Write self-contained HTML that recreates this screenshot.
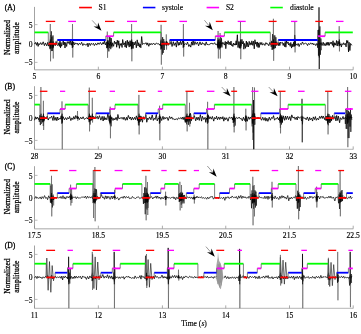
<!DOCTYPE html>
<html><head><meta charset="utf-8"><style>
html,body{margin:0;padding:0;background:#fff;}
svg{display:block;}
text{font-family:"Liberation Serif",serif;fill:#000;stroke:#000;stroke-width:0.15px;}
</style></head><body>
<svg width="361" height="334" viewBox="0 0 361 334">
<rect width="361" height="334" fill="#fff"/>

<line x1="79.1" y1="7.55" x2="91.9" y2="7.55" stroke="#ff0000" stroke-width="1.6"/>
<text x="98.6" y="10.0" font-size="7.6">S1</text>
<line x1="142.9" y1="7.55" x2="155.4" y2="7.55" stroke="#0000ff" stroke-width="1.6"/>
<text x="162.0" y="10.0" font-size="7.6">systole</text>
<line x1="206.6" y1="7.55" x2="219.1" y2="7.55" stroke="#ff00ff" stroke-width="1.6"/>
<text x="225.9" y="10.0" font-size="7.6">S2</text>
<line x1="270.3" y1="7.55" x2="282.8" y2="7.55" stroke="#00ff00" stroke-width="1.6"/>
<text x="290.1" y="10.0" font-size="7.6">diastole</text>
<line x1="34.5" y1="6.9" x2="34.5" y2="69.7" stroke="#999" stroke-width="0.9"/>
<line x1="34.5" y1="69.7" x2="353.3" y2="69.7" stroke="#c4c4c4" stroke-width="1.4"/>
<line x1="34.5" y1="24.62" x2="37.5" y2="24.62" stroke="#aaa" stroke-width="0.8"/>
<text x="32.6" y="27.73" font-size="7.6" text-anchor="end">5</text>
<line x1="34.5" y1="43.50" x2="37.5" y2="43.50" stroke="#aaa" stroke-width="0.8"/>
<text x="32.6" y="46.60" font-size="7.6" text-anchor="end">0</text>
<line x1="34.5" y1="62.38" x2="37.5" y2="62.38" stroke="#aaa" stroke-width="0.8"/>
<text x="32.6" y="65.47" font-size="7.6" text-anchor="end">−5</text>
<line x1="34.50" y1="69.7" x2="34.50" y2="66.7" stroke="#888" stroke-width="0.7"/>
<text x="34.50" y="79.10" font-size="7.6" text-anchor="middle">5</text>
<line x1="98.35" y1="69.7" x2="98.35" y2="66.7" stroke="#888" stroke-width="0.7"/>
<text x="98.35" y="79.10" font-size="7.6" text-anchor="middle">6</text>
<line x1="162.40" y1="69.7" x2="162.40" y2="66.7" stroke="#888" stroke-width="0.7"/>
<text x="162.40" y="79.10" font-size="7.6" text-anchor="middle">7</text>
<line x1="225.75" y1="69.7" x2="225.75" y2="66.7" stroke="#888" stroke-width="0.7"/>
<text x="225.75" y="79.10" font-size="7.6" text-anchor="middle">8</text>
<line x1="289.50" y1="69.7" x2="289.50" y2="66.7" stroke="#888" stroke-width="0.7"/>
<text x="289.50" y="79.10" font-size="7.6" text-anchor="middle">9</text>
<line x1="353.20" y1="69.7" x2="353.20" y2="66.7" stroke="#888" stroke-width="0.7"/>
<text x="353.20" y="79.10" font-size="7.6" text-anchor="middle">10</text>
<path d="M34.5,43.88 L35.56,42.44 L36.61,45.26 L37.38,42.34 L38.11,46.4 L38.92,43.48 L39.66,44.61 L40.67,42.64 L41.82,44.72 L43.21,41.83 L44.41,45.66 L45.39,42.93 L46.76,45.84 L47.79,42.33 L48.54,46.11 L49.91,42.23 L50.79,45.32 L51.88,43.39 L53.09,44.36 L53.94,43.09 L55.2,45.79 L56.08,41.45 L57.02,45.03 L57.62,45.44 L58.19,45.36 L58.89,42.73 L59.43,46.36 L59.97,40.72 L60.52,47.78 L61.02,42.48 L61.59,46.22 L62.19,44.65 L62.67,43.51 L63.26,40.56 L63.72,44.95 L64.36,42.13 L64.99,48.04 L65.73,42.45 L66.63,46.46 L67.33,41.6 L68.27,43.37 L69.09,41.29 L70,44.68 L70.66,39.73 L71.4,45.22 L71.89,42.67 L72.78,44.7 L73.78,42.11 L74.5,44.79 L75.55,42.87 L76.43,44.11 L77.25,43.16 L78.26,45.2 L79.26,43.23 L80.58,44.48 L81.63,42.3 L82.82,45.58 L83.72,43.67 L84.85,44.62 L85.87,44.95 L86.6,44.91 L87.31,43.29 L88.03,46.84 L89.04,43.08 L90.31,45.51 L91.13,43.33 L92.33,44.52 L93.4,43.29 L94.37,45.6 L95.58,43.36 L96.72,45.1 L97.97,42.84 L99.13,44.45 L100.33,42.44 L101.72,44.79 L103.06,42.29 L103.81,44.11 L104.53,40.51 L105.35,44.86 L106.42,42.4 L107.6,44.6 L108.67,43.32 L109.81,45.41 L110.78,41.97 L111.63,46.11 L112.47,42.81 L113.59,46.31 L114.44,41.12 L115.24,43.81 L116.15,42.04 L116.66,47.22 L117.27,40.23 L118.18,45.26 L118.75,40.75 L119.38,48.32 L120.08,43.59 L120.8,45.32 L121.33,43.42 L122.09,47.48 L122.66,39.5 L123.56,44.73 L124.51,42.85 L125.08,47.09 L125.74,41.21 L126.39,47.79 L127.3,40.19 L128,45.4 L128.49,41.84 L129.19,47.08 L130.06,40.64 L130.56,46.27 L131.18,41.3 L131.84,48.58 L132.38,41.9 L133.03,48.56 L133.89,42.18 L134.65,44.94 L135.5,41.54 L136.32,47.77 L137.21,39.85 L138.05,46.02 L138.73,42.71 L139.5,47.12 L140.12,43.96 L140.84,47.77 L141.67,36.55 L142.49,44.56 L143.45,43.62 L144.78,43.76 L146.18,42.73 L146.93,45.16 L147.75,42.86 L148.79,46.32 L149.86,43.29 L150.76,44.84 L151.67,43.49 L152.4,44.57 L153.62,43.08 L154.98,44.89 L156.36,43.03 L157.72,43.93 L158.84,43.78 L159.86,45.21 L160.87,42.95 L161.76,44.36 L163.15,42.79 L164.02,45.19 L164.97,42.73 L166.07,44.57 L166.94,41.69 L168.26,45.31 L169.39,43.44 L170.14,44.29 L171.11,41.33 L172.05,46.49 L173.31,41.68 L174.16,45.48 L175.32,42.71 L176.4,47.12 L177.17,39.53 L178.27,45.42 L179.02,42.25 L179.78,45.08 L180.58,41.27 L181.53,44.57 L182.89,40.21 L184.15,44.92 L185.48,43.64 L186.44,44.74 L187.53,42.1 L188.82,46.54 L189.71,44.68 L190.79,47.13 L191.54,41.89 L192.3,45.18 L193.1,39.83 L193.97,45.19 L194.95,41.58 L196.12,44.37 L197.46,42.14 L198.62,45.83 L199.99,41.88 L201.19,44.96 L202.41,42.56 L203.23,44.24 L203.97,43.43 L205.12,45.47 L206.23,41.9 L207.06,44.71 L207.92,44.22 L208.74,45.13 L209.77,43.9 L211.11,43.58 L211.97,43.22 L213.23,44.26 L214.62,42.66 L215.33,44.35 L216.45,44.1 L217.38,45.11 L218.77,42.85 L219.58,46.33 L220.86,43.56 L222.06,43.9 L223.17,42.57 L224.42,45.1 L225.27,41.41 L225.79,48.67 L226.48,42.03 L227.27,44.08 L228.14,40.74 L228.94,44.69 L229.79,42.17 L230.39,44.95 L231.03,41.06 L231.58,45.63 L232.39,44.63 L232.89,46.54 L233.43,43 L234.18,45.1 L234.83,43.69 L235.49,45.11 L236.14,40.77 L236.59,44.95 L237.37,34.79 L238,47.51 L238.84,41.49 L239.37,48.16 L240.07,42.04 L241.01,45.81 L241.94,39.34 L242.43,43.94 L243.34,41.4 L243.85,49.2 L244.58,43.41 L245.49,48.3 L246.35,41.03 L246.92,46.78 L247.41,42.54 L248.35,47 L249.17,41.33 L250.02,45.18 L250.67,42.76 L251.38,44.61 L251.85,40.86 L252.78,45.39 L253.57,41.23 L254.26,48.83 L254.93,39.73 L255.64,44.1 L256.12,42.11 L256.94,46.52 L257.42,41.95 L258.12,47.53 L258.69,42.9 L259.26,47.4 L260.14,42.38 L261,44.71 L261.79,42.48 L262.49,45.13 L263.76,43.55 L264.87,45.47 L265.92,42.6 L266.95,44.3 L267.78,43.63 L268.81,45.79 L269.96,42.25 L270.69,44.42 L272,42.25 L273.19,45.42 L274.1,42.76 L274.93,44.2 L276.09,41.68 L276.95,45.43 L278.1,42.4 L278.77,45.81 L279.36,42.58 L279.86,45.48 L280.58,42.05 L281.52,43.12 L282.44,42.37 L283.17,45.48 L283.88,43.1 L284.67,46.7 L285.2,41.48 L285.87,47.19 L286.57,40.96 L287.26,43.45 L288.15,41.91 L288.61,45.02 L289.46,43.56 L290.19,46.35 L290.8,42.48 L291.56,48.08 L292.1,43.98 L292.89,47.02 L293.52,42.38 L293.99,46.22 L294.67,34.95 L295.57,44.39 L296.06,43.88 L297.29,45.39 L298.16,43.42 L299.11,46.57 L300.27,43.5 L301.45,44.62 L302.43,41.94 L303.68,44.45 L304.49,43.65 L305.52,43.23 L306.82,43.91 L307.57,45.57 L308.46,43.44 L309.66,44.52 L310.61,42.84 L311.94,44.31 L312.87,43.06 L313.61,44.89 L314.73,43.76 L315.72,45.6 L316.93,43.36 L317.78,44.6 L319.08,42.85 L320.02,44.74 L321.12,42.59 L322.03,45.56 L323.19,42.19 L324.06,45.66 L324.8,43.43 L325.85,45.77 L326.38,42.57 L326.88,44.97 L327.68,42.31 L328.14,45.33 L328.62,42.46 L329.3,45.38 L330.2,42.24 L330.98,43.83 L331.61,42.26 L332.45,45.43 L333.04,40.77 L333.68,47.26 L334.28,42.65 L334.81,45.24 L335.26,43.44 L335.83,45.12 L336.56,40.49 L337.18,46.02 L337.97,41.24 L338.83,44.23 L339.47,41.99 L340.19,45.17 L340.89,43.85 L341.39,47.04 L342.09,43.65 L342.97,44.7 L343.62,42.75 L344.42,44.62 L345.29,43.35 L346.09,46.88 L346.73,40.38 L347.27,42.79 L347.79,40.65 L348.56,51.92 L349.06,42.2 L349.88,50.55 L350.57,43.46 L351.83,45.37" fill="none" stroke="#000" stroke-width="0.85" stroke-linejoin="round"/>
<path d="M49.6,44 50.05,48.43 50.53,34.96 50.92,48.17 51.3,31.29 51.71,51.06 52.09,36.97 52.45,50.94 52.83,36.1 53.25,46.92 53.72,42.59" fill="none" stroke="#000" stroke-width="0.65"/>
<path d="M106.5,44 106.87,48.1 107.29,42.15 107.69,49.54 108.29,40.51 108.86,51.4 109.31,36.24 109.76,48.06 110.25,37.48 110.75,49.16 111.34,38.17 111.93,47.5 112.49,43.75" fill="none" stroke="#000" stroke-width="0.65"/>
<path d="M160.1,44 160.49,45.83 160.86,40.43 161.4,48.75 161.88,41.04 162.28,54.59 162.63,37.18 163.19,52.93 163.72,39.1 164.27,50 164.81,41.17" fill="none" stroke="#000" stroke-width="0.65"/>
<path d="M217.1,44 217.55,46.65 217.96,38.26 218.32,48.1 218.73,39.19 219.17,49.51 219.72,38.68 220.23,48.1 220.65,35.6 221.08,46.36 221.51,38.32 221.92,47.49 222.4,42" fill="none" stroke="#000" stroke-width="0.65"/>
<path d="M270.8,44 271.19,46.79 271.64,40.87 272.12,49.92 272.55,34.09 273.14,49.62 273.71,35.35 274.25,48.73 274.84,35.38 275.43,48.14 275.89,37.24 276.28,45.8" fill="none" stroke="#000" stroke-width="0.65"/>
<path d="M317.2,44 317.63,47.77 318.07,29.98 318.46,55.65 318.9,29.74 319.3,57.46 319.88,26.37 320.38,54.76 320.88,38.46 321.43,50.26" fill="none" stroke="#000" stroke-width="0.65"/>
<path d="M50.1,44.0 L50.3,24 L50.55,61.3 L50.75,44.0" fill="none" stroke="#555" stroke-width="0.6"/>
<path d="M49.8,41.3 L50.1,49.2 L50.4,39.5 L50.7,48.2 L51,41.8" fill="none" stroke="#000" stroke-width="0.6"/>
<path d="M52.8,44.0 L53,35 L53.25,58.5 L53.45,44.0" fill="none" stroke="#555" stroke-width="0.6"/>
<path d="M52.5,42.4 L52.8,48.4 L53.1,41.3 L53.4,47.5 L53.7,42.6" fill="none" stroke="#000" stroke-width="0.6"/>
<path d="M72.3,44.0 L72.5,24 L72.75,57.5 L72.95,44.0" fill="none" stroke="#555" stroke-width="0.6"/>
<path d="M72,41.3 L72.3,48.0 L72.6,39.5 L72.9,47.2 L73.2,41.8" fill="none" stroke="#000" stroke-width="0.6"/>
<path d="M107.1,44.0 L107.3,31.6 L107.55,57.8 L107.75,44.0" fill="none" stroke="#555" stroke-width="0.6"/>
<path d="M106.8,41.8 L107.1,48.1 L107.4,40.3 L107.7,47.3 L108,42.1" fill="none" stroke="#000" stroke-width="0.6"/>
<path d="M131.4,44.0 L131.6,24 L131.85,61.3 L132.05,44.0" fill="none" stroke="#555" stroke-width="0.6"/>
<path d="M131.1,41.3 L131.4,49.2 L131.7,39.5 L132,48.2 L132.3,41.8" fill="none" stroke="#000" stroke-width="0.6"/>
<path d="M160.9,44.0 L161.1,24.8 L161.35,64.7 L161.55,44.0" fill="none" stroke="#555" stroke-width="0.6"/>
<path d="M160.6,41.3 L160.9,49.5 L161.2,39.5 L161.5,48.4 L161.8,41.8" fill="none" stroke="#000" stroke-width="0.6"/>
<path d="M166.1,44.0 L166.3,34.4 L166.55,49.6 L166.75,44.0" fill="none" stroke="#555" stroke-width="0.6"/>
<path d="M165.8,42.3 L166.1,45.7 L166.4,41.1 L166.7,45.3 L167,42.6" fill="none" stroke="#000" stroke-width="0.6"/>
<path d="M183.2,44.0 L183.4,24 L183.65,56.5 L183.85,44.0" fill="none" stroke="#555" stroke-width="0.6"/>
<path d="M182.9,41.3 L183.2,47.8 L183.5,39.5 L183.8,47.0 L184.1,41.8" fill="none" stroke="#000" stroke-width="0.6"/>
<path d="M217.9,44.0 L218.1,31 L218.35,58.5 L218.55,44.0" fill="none" stroke="#555" stroke-width="0.6"/>
<path d="M217.6,41.7 L217.9,48.4 L218.2,40.1 L218.5,47.5 L218.8,42.0" fill="none" stroke="#000" stroke-width="0.6"/>
<path d="M219.9,44.0 L220.1,33 L220.35,58.5 L220.55,44.0" fill="none" stroke="#555" stroke-width="0.6"/>
<path d="M219.6,42.0 L219.9,48.4 L220.2,40.7 L220.5,47.5 L220.8,42.4" fill="none" stroke="#000" stroke-width="0.6"/>
<path d="M240.3,44.0 L240.5,22 L240.75,59.2 L240.95,44.0" fill="none" stroke="#555" stroke-width="0.6"/>
<path d="M240,41.3 L240.3,48.6 L240.6,39.5 L240.9,47.6 L241.2,41.8" fill="none" stroke="#000" stroke-width="0.6"/>
<path d="M273.2,44.0 L273.4,18.8 L273.65,60.8 L273.85,44.0" fill="none" stroke="#555" stroke-width="0.6"/>
<path d="M272.9,41.3 L273.2,49.0 L273.5,39.5 L273.8,48.0 L274.1,41.8" fill="none" stroke="#000" stroke-width="0.6"/>
<path d="M294.6,44.0 L294.8,21.9 L295.05,52.4 L295.25,44.0" fill="none" stroke="#555" stroke-width="0.6"/>
<path d="M294.3,41.3 L294.6,46.5 L294.9,39.5 L295.2,46.0 L295.5,41.8" fill="none" stroke="#000" stroke-width="0.6"/>
<path d="M318.8,44.0 L319,7.3 L319.25,69 L319.45,44.0" fill="none" stroke="#111" stroke-width="0.75"/>
<path d="M339,44.0 L339.2,26.2 L339.45,51.4 L339.65,44.0" fill="none" stroke="#555" stroke-width="0.6"/>
<path d="M338.7,41.3 L339,46.2 L339.3,39.5 L339.6,45.8 L339.9,41.8" fill="none" stroke="#000" stroke-width="0.6"/>
<line x1="34.5" y1="32.40" x2="48.3" y2="32.40" stroke="#00ff00" stroke-width="1.8"/>
<line x1="48.3" y1="43.80" x2="57.3" y2="43.80" stroke="#ff0000" stroke-width="1.8"/>
<line x1="57.3" y1="40.00" x2="105.8" y2="40.00" stroke="#0000ff" stroke-width="1.8"/>
<line x1="105.8" y1="36.20" x2="113.6" y2="36.20" stroke="#ff00ff" stroke-width="1.8"/>
<line x1="113.6" y1="32.40" x2="161.1" y2="32.40" stroke="#00ff00" stroke-width="1.8"/>
<line x1="161.1" y1="43.80" x2="169.6" y2="43.80" stroke="#ff0000" stroke-width="1.8"/>
<line x1="169.6" y1="40.00" x2="215.3" y2="40.00" stroke="#0000ff" stroke-width="1.8"/>
<line x1="215.3" y1="36.20" x2="224.4" y2="36.20" stroke="#ff00ff" stroke-width="1.8"/>
<line x1="224.4" y1="32.40" x2="270.3" y2="32.40" stroke="#00ff00" stroke-width="1.8"/>
<line x1="270.3" y1="43.80" x2="278.2" y2="43.80" stroke="#ff0000" stroke-width="1.8"/>
<line x1="278.2" y1="40.00" x2="317.8" y2="40.00" stroke="#0000ff" stroke-width="1.8"/>
<line x1="317.8" y1="36.20" x2="325.1" y2="36.20" stroke="#ff00ff" stroke-width="1.8"/>
<line x1="325.1" y1="32.40" x2="352.8" y2="32.40" stroke="#00ff00" stroke-width="1.8"/>
<line x1="48.3" y1="32.40" x2="48.3" y2="43.80" stroke="#555" stroke-width="0.75"/>
<line x1="57.3" y1="43.80" x2="57.3" y2="40.00" stroke="#555" stroke-width="0.75"/>
<line x1="105.8" y1="40.00" x2="105.8" y2="36.20" stroke="#555" stroke-width="0.75"/>
<line x1="113.6" y1="36.20" x2="113.6" y2="32.40" stroke="#555" stroke-width="0.75"/>
<line x1="161.1" y1="32.40" x2="161.1" y2="43.80" stroke="#555" stroke-width="0.75"/>
<line x1="169.6" y1="43.80" x2="169.6" y2="40.00" stroke="#555" stroke-width="0.75"/>
<line x1="215.3" y1="40.00" x2="215.3" y2="36.20" stroke="#555" stroke-width="0.75"/>
<line x1="224.4" y1="36.20" x2="224.4" y2="32.40" stroke="#555" stroke-width="0.75"/>
<line x1="270.3" y1="32.40" x2="270.3" y2="43.80" stroke="#555" stroke-width="0.75"/>
<line x1="278.2" y1="43.80" x2="278.2" y2="40.00" stroke="#555" stroke-width="0.75"/>
<line x1="317.8" y1="40.00" x2="317.8" y2="36.20" stroke="#555" stroke-width="0.75"/>
<line x1="325.1" y1="36.20" x2="325.1" y2="32.40" stroke="#555" stroke-width="0.75"/>
<line x1="45.8" y1="21.40" x2="55.2" y2="21.40" stroke="#ff0000" stroke-width="1.3"/>
<line x1="68.2" y1="21.40" x2="76.0" y2="21.40" stroke="#ff00ff" stroke-width="1.3"/>
<line x1="105.0" y1="21.40" x2="114.4" y2="21.40" stroke="#ff0000" stroke-width="1.3"/>
<line x1="127.0" y1="21.40" x2="137.0" y2="21.40" stroke="#ff00ff" stroke-width="1.3"/>
<line x1="157.4" y1="21.40" x2="166.6" y2="21.40" stroke="#ff0000" stroke-width="1.3"/>
<line x1="179.4" y1="21.40" x2="187.0" y2="21.40" stroke="#ff00ff" stroke-width="1.3"/>
<line x1="215.8" y1="21.40" x2="223.2" y2="21.40" stroke="#ff0000" stroke-width="1.3"/>
<line x1="237.7" y1="21.40" x2="245.7" y2="21.40" stroke="#ff00ff" stroke-width="1.3"/>
<line x1="268.6" y1="21.40" x2="276.6" y2="21.40" stroke="#ff0000" stroke-width="1.3"/>
<line x1="291.0" y1="21.40" x2="297.3" y2="21.40" stroke="#ff00ff" stroke-width="1.3"/>
<line x1="315.3" y1="21.40" x2="323.0" y2="21.40" stroke="#ff0000" stroke-width="1.3"/>
<line x1="336.0" y1="21.40" x2="343.5" y2="21.40" stroke="#ff00ff" stroke-width="1.3"/>
<line x1="92.2" y1="20.4" x2="97.75" y2="26.54" stroke="#555" stroke-width="0.6"/>
<polygon points="101.5,30.7 93.58,26.40 97.75,26.54 98.03,22.38" fill="#000"/>
<line x1="204.4" y1="20.2" x2="209.22" y2="25.99" stroke="#555" stroke-width="0.6"/>
<polygon points="212.8,30.3 205.06,25.68 209.22,25.99 209.67,21.85" fill="#000"/>
<text x="4.8" y="10.0" font-size="7.6" style="stroke-width:0.3px">(A)</text>
<text transform="translate(9.5,37.50) rotate(-90)" font-size="7.6" text-anchor="middle" letter-spacing="-0.08" style="stroke-width:0.25px">Normalized</text>
<text transform="translate(18.7,38.00) rotate(-90)" font-size="7.6" text-anchor="middle" letter-spacing="0.2" style="stroke-width:0.25px">amplitude</text>
<line x1="34.5" y1="86.2" x2="34.5" y2="149.35" stroke="#999" stroke-width="0.9"/>
<line x1="34.5" y1="149.35" x2="353.3" y2="149.35" stroke="#c4c4c4" stroke-width="1.4"/>
<line x1="34.5" y1="95.40" x2="37.5" y2="95.40" stroke="#aaa" stroke-width="0.8"/>
<text x="32.6" y="98.50" font-size="7.6" text-anchor="end">5</text>
<line x1="34.5" y1="117.90" x2="37.5" y2="117.90" stroke="#aaa" stroke-width="0.8"/>
<text x="32.6" y="121.00" font-size="7.6" text-anchor="end">0</text>
<line x1="34.5" y1="140.40" x2="37.5" y2="140.40" stroke="#aaa" stroke-width="0.8"/>
<text x="32.6" y="143.50" font-size="7.6" text-anchor="end">−5</text>
<line x1="34.50" y1="149.35" x2="34.50" y2="146.35" stroke="#888" stroke-width="0.7"/>
<text x="34.50" y="158.75" font-size="7.6" text-anchor="middle">28</text>
<line x1="98.35" y1="149.35" x2="98.35" y2="146.35" stroke="#888" stroke-width="0.7"/>
<text x="98.35" y="158.75" font-size="7.6" text-anchor="middle">29</text>
<line x1="162.40" y1="149.35" x2="162.40" y2="146.35" stroke="#888" stroke-width="0.7"/>
<text x="162.40" y="158.75" font-size="7.6" text-anchor="middle">30</text>
<line x1="225.75" y1="149.35" x2="225.75" y2="146.35" stroke="#888" stroke-width="0.7"/>
<text x="225.75" y="158.75" font-size="7.6" text-anchor="middle">31</text>
<line x1="289.50" y1="149.35" x2="289.50" y2="146.35" stroke="#888" stroke-width="0.7"/>
<text x="289.50" y="158.75" font-size="7.6" text-anchor="middle">32</text>
<line x1="353.20" y1="149.35" x2="353.20" y2="146.35" stroke="#888" stroke-width="0.7"/>
<text x="353.20" y="158.75" font-size="7.6" text-anchor="middle">33</text>
<path d="M34.5,120.25 L35.47,116.8 L36.19,119.14 L37.31,117.16 L38.7,119.64 L39.92,115.23 L41.31,120.08 L42.6,117.8 L43.66,121.47 L44.86,117.63 L46.16,118.3 L47.31,116.09 L48.18,120.05 L49.42,117.65 L50.38,118.11 L51.68,116.17 L52.98,120.5 L53.73,115.74 L54.94,120.34 L55.94,117.22 L56.83,120.73 L57.66,117.03 L58.44,119.98 L59.39,118.49 L60.34,119.07 L61.15,115.8 L62.17,119.92 L63.11,116.75 L64.42,119.84 L65.59,117.62 L66.71,119.72 L67.61,117.57 L68.78,118.85 L69.57,116.36 L70.85,120.59 L71.93,117.85 L72.89,119.6 L73.83,116.49 L74.86,119.14 L75.78,115.47 L77.18,118.25 L78.33,116.9 L79.31,119.65 L80.71,117.24 L81.92,118.98 L83.08,116.78 L84.29,119.38 L85.32,118.69 L86.04,118.05 L87.11,117.75 L87.9,119.02 L88.66,116.7 L89.65,119.69 L90.66,115.77 L91.96,119.14 L93.03,116.24 L94.02,117.84 L95.29,116.54 L96.01,118.53 L97.39,116.35 L98.14,119.13 L99.48,115.68 L100.85,120.12 L102.18,116.34 L103.14,121.03 L104.09,116.42 L104.83,120.02 L105.81,117.8 L106.85,119.75 L107.89,113.7 L109.26,120.79 L110.22,116.7 L111.27,118.92 L112.01,117.65 L113,120.45 L113.9,118.2 L114.83,119.99 L116.09,117.3 L117.17,120.44 L117.89,114.46 L118.88,118.9 L120.22,117.81 L121.19,118.68 L121.97,117.27 L123.25,119.44 L124.03,117.06 L125.38,120.32 L126.45,117.33 L127.18,120.15 L128.35,115.4 L129.59,118.81 L130.41,117.03 L131.35,120.07 L132.33,117.19 L133.36,119.7 L134.55,117.36 L135.43,119.67 L136.39,115.89 L137.78,120.4 L138.82,117.44 L140.11,118.38 L141.21,116.75 L142.44,122.23 L143.3,116.68 L144.53,119.35 L145.88,114.74 L146.78,122.24 L147.67,118.12 L148.57,119.46 L149.61,116.88 L150.92,119.78 L152.22,114.96 L153.39,120.45 L154.27,118.25 L155.13,119.47 L156.34,114.44 L157.2,120.85 L158.56,117.91 L159.66,119.35 L160.57,116.82 L161.67,120.51 L162.97,116.31 L163.8,119.41 L164.85,117.31 L165.61,118.78 L166.99,117.24 L168.18,120.48 L169.54,116.42 L170.66,118.61 L171.79,116.93 L172.51,119.15 L173.88,118.87 L174.94,119.75 L176.21,118.77 L177.49,119.69 L178.43,117.84 L179.5,118.67 L180.52,117.7 L181.4,119.11 L182.33,117.16 L183.21,119.62 L184.07,116.85 L185.32,122.45 L186.2,115.89 L187.15,120.99 L188.12,117.84 L189.37,118.19 L190.49,113.37 L191.45,118.87 L192.25,118.57 L193.19,119.03 L194.39,115.68 L195.71,120.81 L196.73,117.29 L197.48,119.63 L198.21,117.13 L199.29,120.42 L200.36,114.64 L201.59,121.12 L202.4,116.26 L203.78,119.5 L205.08,117.33 L205.79,122.35 L206.53,117.91 L207.24,119.82 L208.29,115.21 L209.02,119.1 L209.98,116.67 L211.3,119.16 L212.38,116.41 L213.73,121.12 L214.55,117.48 L215.75,118.93 L216.56,116.23 L217.51,119.76 L218.85,116.95 L219.74,119.54 L220.76,116.97 L222.14,119.06 L222.9,116.63 L223.78,121.17 L224.78,117.57 L225.68,119.71 L226.62,117.73 L228.01,121.18 L229.26,117.06 L230.54,118.08 L231.88,117.21 L233.01,120.02 L234.16,117.55 L235.47,118.85 L236.65,117.42 L237.86,118.61 L239.1,117.09 L240.25,118.83 L241.19,118.33 L242.35,120.75 L243.41,117.24 L244.59,120.49 L245.94,115.97 L247.32,121.27 L248.21,116.8 L249.29,119.37 L250.16,117.09 L250.91,118.47 L251.98,115.88 L252.84,118.88 L253.63,116.71 L254.78,119.17 L255.65,117.67 L256.89,118.68 L257.98,117.18 L259.21,118.69 L260.23,117.64 L261.55,120.26 L262.74,117.27 L263.96,120.3 L265.14,117.53 L265.88,121.12 L266.85,118.23 L267.89,121.36 L269.28,117.17 L270.34,120.24 L271.66,117.4 L272.61,118.46 L273.53,115.64 L274.55,120.2 L275.57,118.64 L276.55,118.89 L277.46,117.18 L278.46,119.84 L279.7,117.19 L280.41,119.2 L281.3,116.93 L282.13,122.78 L283.41,115.84 L284.64,120.3 L285.52,115.97 L286.31,119.57 L287.52,116.16 L288.57,119.63 L289.89,116.47 L290.7,120.62 L291.77,114.87 L293,118.09 L294.18,116.97 L295.13,119.46 L296.29,117.11 L297.17,120.01 L297.93,116.5 L299.12,118.18 L300.42,117.19 L301.73,118.06 L302.65,117.39 L304.04,118.24 L305.18,118.09 L306.18,119.8 L307.35,116.95 L308.67,120.74 L309.62,117.4 L310.37,119.76 L311.48,118.19 L312.6,121.06 L313.31,116.9 L314.5,119.54 L315.4,116.55 L316.31,120.28 L317.42,118.25 L318.48,119.86 L319.71,116.31 L320.69,118.45 L321.72,115.92 L322.58,118.42 L323.3,116.17 L324.61,119.6 L325.79,116.03 L327.11,120.36 L328.4,117.71 L329.46,120.69 L330.52,117.75 L331.49,120.49 L332.58,115.36 L333.69,119.28 L335.02,116.32 L335.96,120.95 L336.67,115.44 L337.6,120.42 L338.37,116.09 L339.61,122.74 L340.4,117.68 L341.77,119.57 L343.05,116.46 L343.78,119.15 L345.06,117.31 L346.44,118.61 L347.78,117.07 L348.68,120.11 L350.07,116.32 L351.12,118.27 L352.08,117.09" fill="none" stroke="#000" stroke-width="0.85" stroke-linejoin="round"/>
<path d="M38.9,118.2 39.29,121.84 39.87,117.31 40.34,125.09 40.88,116.15 41.29,123.76 41.82,117.07 42.39,122.36 42.79,116.34 43.35,126.01 43.88,116.51 44.41,119.91" fill="none" stroke="#000" stroke-width="0.65"/>
<path d="M88,118.2 88.39,119.21 88.75,116.27 89.19,120.25 89.55,115.55 90.05,124.57 90.41,116.99 90.84,121 91.21,116.98 91.72,120.11 92.12,117.23" fill="none" stroke="#000" stroke-width="0.65"/>
<path d="M109,118.2 109.49,122.4 109.94,116.39 110.3,125.26 110.7,116.51 111.05,126.33 111.55,117.05" fill="none" stroke="#000" stroke-width="0.65"/>
<path d="M137,118.2 137.38,120.32 137.91,116.96 138.44,125.32 138.8,116.7 139.22,125.39 139.77,115.69 140.35,121.66 140.8,115.91 141.34,120.14 141.93,117.81" fill="none" stroke="#000" stroke-width="0.65"/>
<path d="M185,118.2 185.5,121.28 186.08,116.78 186.65,124.35 187.21,116.02 187.8,121.23 188.25,115.98 188.63,124.8 189,115.87 189.42,122.09 189.92,116.98 190.38,123.69 190.98,117.25 191.42,120.92 191.82,117.56" fill="none" stroke="#000" stroke-width="0.65"/>
<path d="M232,118.2 232.43,119.89 232.79,117.72 233.22,122.91 233.82,116.57 234.18,126.8 234.59,116.89 235.12,125.62 235.7,117.66" fill="none" stroke="#000" stroke-width="0.65"/>
<path d="M251.8,118.2 252.23,126.43 252.69,110.29 253.08,132.62 253.67,112.85 254.18,124.69 254.54,113.04 254.93,124.41" fill="none" stroke="#000" stroke-width="0.65"/>
<path d="M279,118.2 279.59,120.69 279.97,117.11 280.43,127.93 280.95,115.33 281.52,124.49 281.89,115.52 282.25,122.02 282.61,117.35 282.97,118.96" fill="none" stroke="#000" stroke-width="0.65"/>
<path d="M301,118.2 301.56,121.02 301.94,115.85 302.47,124.31 302.96,116.48" fill="none" stroke="#000" stroke-width="0.65"/>
<path d="M325,118.2 325.59,120.4 326.14,116.17 326.6,120.55 327.07,116.42 327.57,124.3 328.05,116.78 328.43,125.3 328.95,114.08 329.5,122.83 329.97,115.81 330.52,122.43 331.1,116.67 331.55,120.58 331.99,118.01" fill="none" stroke="#000" stroke-width="0.65"/>
<path d="M345,118.2 345.37,123.93 345.76,114.39 346.21,128.8 346.75,109.16 347.18,129.06 347.75,110.3 348.1,138.07 348.57,111.06 348.96,138.07 349.49,112.3 350.01,126.63 350.48,108.2 350.84,131.9 351.27,114.51 351.82,120.03" fill="none" stroke="#000" stroke-width="0.65"/>
<path d="M40.7,118.2 L40.9,87 L41.15,123.5 L41.35,118.2" fill="none" stroke="#555" stroke-width="0.6"/>
<path d="M40.4,115.5 L40.7,119.8 L41,113.7 L41.3,119.5 L41.6,116.0" fill="none" stroke="#000" stroke-width="0.6"/>
<path d="M43.2,118.2 L43.4,100.8 L43.65,130 L43.85,118.2" fill="none" stroke="#555" stroke-width="0.6"/>
<path d="M42.9,115.5 L43.2,121.7 L43.5,113.7 L43.8,121.0 L44.1,116.0" fill="none" stroke="#000" stroke-width="0.6"/>
<path d="M61.8,118.2 L62,101.4 L62.25,149.2 L62.45,118.2" fill="none" stroke="#555" stroke-width="0.6"/>
<path d="M61.5,115.5 L61.8,123.7 L62.1,113.7 L62.4,122.6 L62.7,116.0" fill="none" stroke="#000" stroke-width="0.6"/>
<path d="M77.3,118.2 L77.5,111 L77.75,120.8 L77.95,118.2" fill="none" stroke="#555" stroke-width="0.6"/>
<path d="M77,116.9 L77.3,119.0 L77.6,116.0 L77.9,118.8 L78.2,117.1" fill="none" stroke="#000" stroke-width="0.6"/>
<path d="M89.1,118.2 L89.3,87.6 L89.55,131.4 L89.75,118.2" fill="none" stroke="#555" stroke-width="0.6"/>
<path d="M88.8,115.5 L89.1,122.2 L89.4,113.7 L89.7,121.4 L90,116.0" fill="none" stroke="#000" stroke-width="0.6"/>
<path d="M92.1,118.2 L92.3,97.8 L92.55,122.5 L92.75,118.2" fill="none" stroke="#555" stroke-width="0.6"/>
<path d="M91.8,115.5 L92.1,119.5 L92.4,113.7 L92.7,119.2 L93,116.0" fill="none" stroke="#000" stroke-width="0.6"/>
<path d="M110,118.2 L110.2,106.7 L110.45,138.3 L110.65,118.2" fill="none" stroke="#555" stroke-width="0.6"/>
<path d="M109.7,116.1 L110,123.7 L110.3,114.8 L110.6,122.6 L110.9,116.5" fill="none" stroke="#000" stroke-width="0.6"/>
<path d="M138.7,118.2 L138.9,94.9 L139.15,134.4 L139.35,118.2" fill="none" stroke="#555" stroke-width="0.6"/>
<path d="M138.4,115.5 L138.7,123.1 L139,113.7 L139.3,122.1 L139.6,116.0" fill="none" stroke="#000" stroke-width="0.6"/>
<path d="M159.4,118.2 L159.6,105.7 L159.85,140.3 L160.05,118.2" fill="none" stroke="#555" stroke-width="0.6"/>
<path d="M159.1,116.0 L159.4,123.7 L159.7,114.5 L160,122.6 L160.3,116.3" fill="none" stroke="#000" stroke-width="0.6"/>
<path d="M186.7,118.2 L186.9,91.9 L187.15,131.4 L187.35,118.2" fill="none" stroke="#555" stroke-width="0.6"/>
<path d="M186.4,115.5 L186.7,122.2 L187,113.7 L187.3,121.4 L187.6,116.0" fill="none" stroke="#000" stroke-width="0.6"/>
<path d="M189.3,118.2 L189.5,102.8 L189.75,126.5 L189.95,118.2" fill="none" stroke="#555" stroke-width="0.6"/>
<path d="M189,115.5 L189.3,120.7 L189.6,113.7 L189.9,120.2 L190.2,116.0" fill="none" stroke="#000" stroke-width="0.6"/>
<path d="M207.4,118.2 L207.6,101.8 L207.85,149.2 L208.05,118.2" fill="none" stroke="#555" stroke-width="0.6"/>
<path d="M207.1,115.5 L207.4,123.7 L207.7,113.7 L208,122.6 L208.3,116.0" fill="none" stroke="#000" stroke-width="0.6"/>
<path d="M233.7,118.2 L233.9,87 L234.15,132.4 L234.35,118.2" fill="none" stroke="#555" stroke-width="0.6"/>
<path d="M233.4,115.5 L233.7,122.5 L234,113.7 L234.3,121.6 L234.6,116.0" fill="none" stroke="#000" stroke-width="0.6"/>
<path d="M245.6,118.2 L245.8,108.7 L246.05,130.4 L246.25,118.2" fill="none" stroke="#555" stroke-width="0.6"/>
<path d="M245.3,116.5 L245.6,121.9 L245.9,115.4 L246.2,121.1 L246.5,116.8" fill="none" stroke="#000" stroke-width="0.6"/>
<path d="M252.4,118.2 L252.6,87 L252.85,140 L253.05,118.2" fill="none" stroke="#555" stroke-width="0.6"/>
<path d="M252.1,115.5 L252.4,123.7 L252.7,113.7 L253,122.6 L253.3,116.0" fill="none" stroke="#000" stroke-width="0.6"/>
<path d="M254.3,118.2 L254.5,87.5 L254.75,125 L254.95,118.2" fill="none" stroke="#555" stroke-width="0.6"/>
<path d="M254,115.5 L254.3,120.2 L254.6,113.7 L254.9,119.8 L255.2,116.0" fill="none" stroke="#000" stroke-width="0.6"/>
<path d="M253.3,118.2 L253.5,100 L253.75,149.2 L253.95,118.2" fill="none" stroke="#111" stroke-width="0.9"/>
<path d="M280.1,118.2 L280.3,91.9 L280.55,133.4 L280.75,118.2" fill="none" stroke="#555" stroke-width="0.6"/>
<path d="M279.8,115.5 L280.1,122.8 L280.4,113.7 L280.7,121.8 L281,116.0" fill="none" stroke="#000" stroke-width="0.6"/>
<path d="M301.8,118.2 L302,98.8 L302.25,142.3 L302.45,118.2" fill="none" stroke="#111" stroke-width="0.65"/>
<path d="M327.6,118.2 L327.8,91.9 L328.05,134.4 L328.25,118.2" fill="none" stroke="#555" stroke-width="0.6"/>
<path d="M327.3,115.5 L327.6,123.1 L327.9,113.7 L328.2,122.1 L328.5,116.0" fill="none" stroke="#000" stroke-width="0.6"/>
<path d="M347.4,118.2 L347.6,87 L347.85,147.2 L348.05,118.2" fill="none" stroke="#555" stroke-width="0.6"/>
<path d="M347.1,115.5 L347.4,123.7 L347.7,113.7 L348,122.6 L348.3,116.0" fill="none" stroke="#000" stroke-width="0.6"/>
<line x1="34.5" y1="104.60" x2="39.9" y2="104.60" stroke="#00ff00" stroke-width="1.8"/>
<line x1="39.9" y1="118.10" x2="47.4" y2="118.10" stroke="#ff0000" stroke-width="1.8"/>
<line x1="47.4" y1="113.30" x2="60.0" y2="113.30" stroke="#0000ff" stroke-width="1.8"/>
<line x1="60.0" y1="109.00" x2="65.2" y2="109.00" stroke="#ff00ff" stroke-width="1.8"/>
<line x1="65.2" y1="104.60" x2="88.2" y2="104.60" stroke="#00ff00" stroke-width="1.8"/>
<line x1="88.2" y1="118.10" x2="95.9" y2="118.10" stroke="#ff0000" stroke-width="1.8"/>
<line x1="95.9" y1="113.30" x2="109.7" y2="113.30" stroke="#0000ff" stroke-width="1.8"/>
<line x1="109.7" y1="109.00" x2="115.0" y2="109.00" stroke="#ff00ff" stroke-width="1.8"/>
<line x1="115.0" y1="104.60" x2="138.0" y2="104.60" stroke="#00ff00" stroke-width="1.8"/>
<line x1="138.0" y1="118.10" x2="145.5" y2="118.10" stroke="#ff0000" stroke-width="1.8"/>
<line x1="145.5" y1="113.30" x2="158.2" y2="113.30" stroke="#0000ff" stroke-width="1.8"/>
<line x1="158.2" y1="109.00" x2="162.7" y2="109.00" stroke="#ff00ff" stroke-width="1.8"/>
<line x1="162.7" y1="104.60" x2="185.3" y2="104.60" stroke="#00ff00" stroke-width="1.8"/>
<line x1="185.3" y1="118.10" x2="193.8" y2="118.10" stroke="#ff0000" stroke-width="1.8"/>
<line x1="193.8" y1="113.30" x2="206.5" y2="113.30" stroke="#0000ff" stroke-width="1.8"/>
<line x1="206.5" y1="109.00" x2="214.4" y2="109.00" stroke="#ff00ff" stroke-width="1.8"/>
<line x1="214.4" y1="104.60" x2="251.6" y2="104.60" stroke="#00ff00" stroke-width="1.8"/>
<line x1="251.6" y1="118.10" x2="260.8" y2="118.10" stroke="#ff0000" stroke-width="1.8"/>
<line x1="260.8" y1="113.30" x2="279.6" y2="113.30" stroke="#0000ff" stroke-width="1.8"/>
<line x1="279.6" y1="109.00" x2="288.1" y2="109.00" stroke="#ff00ff" stroke-width="1.8"/>
<line x1="288.1" y1="104.60" x2="325.3" y2="104.60" stroke="#00ff00" stroke-width="1.8"/>
<line x1="325.3" y1="118.10" x2="334.2" y2="118.10" stroke="#ff0000" stroke-width="1.8"/>
<line x1="334.2" y1="113.30" x2="345.5" y2="113.30" stroke="#0000ff" stroke-width="1.8"/>
<line x1="345.5" y1="109.00" x2="352.8" y2="109.00" stroke="#ff00ff" stroke-width="1.8"/>
<line x1="39.9" y1="104.60" x2="39.9" y2="118.10" stroke="#555" stroke-width="0.75"/>
<line x1="47.4" y1="118.10" x2="47.4" y2="113.30" stroke="#555" stroke-width="0.75"/>
<line x1="60.0" y1="113.30" x2="60.0" y2="109.00" stroke="#555" stroke-width="0.75"/>
<line x1="65.2" y1="109.00" x2="65.2" y2="104.60" stroke="#555" stroke-width="0.75"/>
<line x1="88.2" y1="104.60" x2="88.2" y2="118.10" stroke="#555" stroke-width="0.75"/>
<line x1="95.9" y1="118.10" x2="95.9" y2="113.30" stroke="#555" stroke-width="0.75"/>
<line x1="109.7" y1="113.30" x2="109.7" y2="109.00" stroke="#555" stroke-width="0.75"/>
<line x1="115.0" y1="109.00" x2="115.0" y2="104.60" stroke="#555" stroke-width="0.75"/>
<line x1="138.0" y1="104.60" x2="138.0" y2="118.10" stroke="#555" stroke-width="0.75"/>
<line x1="145.5" y1="118.10" x2="145.5" y2="113.30" stroke="#555" stroke-width="0.75"/>
<line x1="158.2" y1="113.30" x2="158.2" y2="109.00" stroke="#555" stroke-width="0.75"/>
<line x1="162.7" y1="109.00" x2="162.7" y2="104.60" stroke="#555" stroke-width="0.75"/>
<line x1="185.3" y1="104.60" x2="185.3" y2="118.10" stroke="#555" stroke-width="0.75"/>
<line x1="193.8" y1="118.10" x2="193.8" y2="113.30" stroke="#555" stroke-width="0.75"/>
<line x1="206.5" y1="113.30" x2="206.5" y2="109.00" stroke="#555" stroke-width="0.75"/>
<line x1="214.4" y1="109.00" x2="214.4" y2="104.60" stroke="#555" stroke-width="0.75"/>
<line x1="251.6" y1="104.60" x2="251.6" y2="118.10" stroke="#555" stroke-width="0.75"/>
<line x1="260.8" y1="118.10" x2="260.8" y2="113.30" stroke="#555" stroke-width="0.75"/>
<line x1="279.6" y1="113.30" x2="279.6" y2="109.00" stroke="#555" stroke-width="0.75"/>
<line x1="288.1" y1="109.00" x2="288.1" y2="104.60" stroke="#555" stroke-width="0.75"/>
<line x1="325.3" y1="104.60" x2="325.3" y2="118.10" stroke="#555" stroke-width="0.75"/>
<line x1="334.2" y1="118.10" x2="334.2" y2="113.30" stroke="#555" stroke-width="0.75"/>
<line x1="345.5" y1="113.30" x2="345.5" y2="109.00" stroke="#555" stroke-width="0.75"/>
<line x1="39.9" y1="91.30" x2="47.4" y2="91.30" stroke="#ff0000" stroke-width="1.3"/>
<line x1="60.0" y1="91.30" x2="65.2" y2="91.30" stroke="#ff00ff" stroke-width="1.3"/>
<line x1="88.0" y1="91.30" x2="95.9" y2="91.30" stroke="#ff0000" stroke-width="1.3"/>
<line x1="109.7" y1="91.30" x2="115.0" y2="91.30" stroke="#ff00ff" stroke-width="1.3"/>
<line x1="138.0" y1="91.30" x2="145.5" y2="91.30" stroke="#ff0000" stroke-width="1.3"/>
<line x1="157.8" y1="91.30" x2="162.1" y2="91.30" stroke="#ff00ff" stroke-width="1.3"/>
<line x1="185.5" y1="91.30" x2="193.8" y2="91.30" stroke="#ff0000" stroke-width="1.3"/>
<line x1="206.9" y1="91.30" x2="214.4" y2="91.30" stroke="#ff00ff" stroke-width="1.3"/>
<line x1="231.2" y1="91.30" x2="237.1" y2="91.30" stroke="#ff0000" stroke-width="1.3"/>
<line x1="251.3" y1="91.30" x2="258.4" y2="91.30" stroke="#ff00ff" stroke-width="1.3"/>
<line x1="278.2" y1="91.30" x2="285.5" y2="91.30" stroke="#ff0000" stroke-width="1.3"/>
<line x1="298.0" y1="91.30" x2="304.6" y2="91.30" stroke="#ff00ff" stroke-width="1.3"/>
<line x1="325.1" y1="91.30" x2="332.2" y2="91.30" stroke="#ff0000" stroke-width="1.3"/>
<line x1="344.9" y1="91.30" x2="351.4" y2="91.30" stroke="#ff00ff" stroke-width="1.3"/>
<line x1="221.7" y1="87" x2="226.73" y2="92.25" stroke="#555" stroke-width="0.6"/>
<polygon points="230.6,96.3 222.56,92.23 226.73,92.25 226.89,88.08" fill="#000"/>
<line x1="268.7" y1="87" x2="273.73" y2="92.25" stroke="#555" stroke-width="0.6"/>
<polygon points="277.6,96.3 269.56,92.23 273.73,92.25 273.89,88.08" fill="#000"/>
<text x="4.8" y="89.0" font-size="7.6" style="stroke-width:0.3px">(B)</text>
<text transform="translate(9.5,116.98) rotate(-90)" font-size="7.6" text-anchor="middle" letter-spacing="-0.08" style="stroke-width:0.25px">Normalized</text>
<text transform="translate(18.7,117.48) rotate(-90)" font-size="7.6" text-anchor="middle" letter-spacing="0.2" style="stroke-width:0.25px">amplitude</text>
<line x1="34.5" y1="166.2" x2="34.5" y2="228.7" stroke="#999" stroke-width="0.9"/>
<line x1="34.5" y1="228.7" x2="353.3" y2="228.7" stroke="#c4c4c4" stroke-width="1.4"/>
<line x1="34.5" y1="175.40" x2="37.5" y2="175.40" stroke="#aaa" stroke-width="0.8"/>
<text x="32.6" y="178.50" font-size="7.6" text-anchor="end">5</text>
<line x1="34.5" y1="197.80" x2="37.5" y2="197.80" stroke="#aaa" stroke-width="0.8"/>
<text x="32.6" y="200.90" font-size="7.6" text-anchor="end">0</text>
<line x1="34.5" y1="220.20" x2="37.5" y2="220.20" stroke="#aaa" stroke-width="0.8"/>
<text x="32.6" y="223.30" font-size="7.6" text-anchor="end">−5</text>
<line x1="34.50" y1="228.7" x2="34.50" y2="225.7" stroke="#888" stroke-width="0.7"/>
<text x="34.50" y="237.70" font-size="7.6" text-anchor="middle">17.5</text>
<line x1="98.35" y1="228.7" x2="98.35" y2="225.7" stroke="#888" stroke-width="0.7"/>
<text x="98.35" y="237.70" font-size="7.6" text-anchor="middle">18.5</text>
<line x1="162.40" y1="228.7" x2="162.40" y2="225.7" stroke="#888" stroke-width="0.7"/>
<text x="162.40" y="237.70" font-size="7.6" text-anchor="middle">19.5</text>
<line x1="225.75" y1="228.7" x2="225.75" y2="225.7" stroke="#888" stroke-width="0.7"/>
<text x="225.75" y="237.70" font-size="7.6" text-anchor="middle">20.5</text>
<line x1="289.50" y1="228.7" x2="289.50" y2="225.7" stroke="#888" stroke-width="0.7"/>
<text x="289.50" y="237.70" font-size="7.6" text-anchor="middle">21.5</text>
<line x1="353.20" y1="228.7" x2="353.20" y2="225.7" stroke="#888" stroke-width="0.7"/>
<text x="353.20" y="237.70" font-size="7.6" text-anchor="middle">22.5</text>
<path d="M34.5,198.64 L35.83,196.47 L36.86,198.34 L37.71,197.45 L38.84,198.66 L40.17,196.91 L41.25,199.07 L42.13,196.6 L43.36,198.49 L44.55,195.6 L45.82,198.48 L46.78,197.42 L47.57,199.68 L48.7,195.79 L49.68,198.07 L50.67,196.67 L51.96,198.46 L53.25,196.69 L54.03,198.52 L54.94,197.07 L56.26,198.13 L57.49,197.35 L58.33,197.93 L59.23,197.09 L60.16,198.21 L60.91,196.37 L62.03,198.63 L62.98,195.63 L64.08,198.75 L64.84,196.85 L65.65,199.1 L66.98,196.28 L68.22,198.03 L69.3,196.2 L70.39,198.7 L71.16,197.4 L72.08,198.44 L73.17,197.07 L74.43,197.51 L75.2,196.63 L76.31,198.77 L77.38,196.78 L78.15,198.11 L79.22,197.91 L80.19,198.08 L81.57,197.15 L82.42,197.24 L83.28,196.71 L84.23,197.89 L85.43,196.02 L86.39,198.57 L87.59,196.13 L88.54,197.98 L89.9,196.74 L90.82,198.1 L92.11,196.35 L92.97,198.87 L93.73,196.82 L94.64,199.05 L95.67,196.37 L96.79,199.72 L97.61,196.44 L98.52,199.1 L99.7,197.77 L100.43,197.7 L101.43,194.44 L102.64,197.82 L103.38,196.81 L104.48,199.31 L105.41,195.85 L106.32,198.74 L107.03,196.05 L107.75,198.34 L108.84,196.38 L110.1,199.4 L111.3,196.06 L112.37,198.92 L113.11,196.06 L113.84,198.03 L115.21,196.92 L116.25,198.61 L117.57,197.42 L118.81,200.08 L120.02,197.82 L120.96,197.79 L122.31,196.86 L123.09,198.37 L124.12,196.01 L125.46,198.24 L126.33,196.45 L127.72,197.87 L128.57,196.57 L129.44,198.66 L130.32,198.3 L131.35,198.48 L132.41,196.41 L133.56,197.95 L134.41,198.06 L135.69,198.58 L136.79,197.15 L137.52,197.16 L138.56,196.78 L139.73,198.63 L140.88,197.79 L141.9,197.71 L143.08,196.73 L143.95,198.16 L144.94,196.51 L146.07,198.37 L147.01,197.4 L148.35,198.9 L149.62,196.73 L150.33,197.39 L151.63,196.61 L152.77,199.01 L154.07,196.92 L155.04,197.87 L155.99,195.94 L156.76,198.43 L157.54,195.98 L158.93,198.45 L159.79,197.02 L160.83,199.31 L161.9,197.05 L163.14,198.94 L164.45,196.7 L165.74,199.06 L166.55,196.28 L167.92,198.05 L169.31,197.45 L170.16,198.48 L171.09,197.64 L172.43,197.44 L173.2,196.84 L173.98,198.77 L174.69,197.25 L175.73,199.77 L176.46,197.29 L177.67,198.38 L178.91,196.23 L179.81,199.14 L181.05,196.92 L182.27,199 L183.02,197.69 L184.38,198.39 L185.24,197.64 L186.2,199.03 L187.48,196.81 L188.79,198 L189.65,196.89 L190.46,198.38 L191.81,197.1 L192.55,199.15 L193.5,197.05 L194.63,199.87 L195.37,196.94 L196.24,198.01 L196.94,196.05 L198.13,197.98 L199.17,196.83 L200.16,197.88 L201.51,196.68 L202.33,198.41 L203.18,197.44 L204.3,198.54 L205.45,197.54 L206.71,199.23 L207.63,197.06 L208.8,198.79 L210.14,196.75 L211.08,197.27 L212.12,196.11 L213.49,199.16 L214.84,196.9 L216.21,198.34 L217.31,197.08 L218.58,198.75 L219.6,197.52 L220.58,198.29 L221.33,197.57 L222.61,198.77 L223.69,197.01 L224.85,200.38 L225.85,196.9 L226.58,198.31 L227.93,196.6 L229.24,198.58 L230.12,197.22 L231.24,197.84 L232.12,195.96 L233.49,197.73 L234.64,197.06 L235.51,198.07 L236.31,196.42 L237.59,199.21 L238.71,195.87 L239.68,198.13 L240.83,195.39 L241.83,198.53 L242.89,196.04 L243.98,197.94 L244.99,196.66 L246.05,198.27 L247.3,197.27 L248.14,198.31 L248.96,196.13 L250.09,197.86 L251.27,197.02 L252.4,197.94 L253.3,196.28 L254.13,199.23 L255.18,195.2 L256.29,198.4 L257.54,196.8 L258.63,198.06 L259.39,196.44 L260.43,197.64 L261.38,197.34 L262.2,198.29 L262.96,197.51 L263.97,198.64 L264.79,196.13 L265.86,198.71 L267.12,196.18 L268.01,199.43 L268.74,196.25 L269.6,198.4 L270.72,196.67 L271.99,197.82 L273.07,196.93 L274.25,198.83 L275.13,195.95 L276.2,198.65 L277.56,197.5 L278.84,199.56 L279.88,196.19 L280.8,198.46 L281.96,195.59 L282.83,197.8 L283.6,196.01 L284.87,198.22 L285.63,197.24 L286.49,199.11 L287.72,195.5 L288.77,200.85 L289.54,197.73 L290.43,199 L291.23,197.14 L292.31,198.65 L293.56,197.08 L294.61,197.89 L295.51,195.56 L296.53,199.06 L297.51,196.67 L298.43,197.67 L299.4,196.94 L300.21,198.72 L301.19,196.68 L302.19,198.5 L302.96,196.76 L304,199.06 L305.14,196.81 L306.51,199.4 L307.68,197.29 L308.92,198.58 L309.98,196.02 L310.73,197.78 L311.84,196.45 L312.83,198.41 L314.15,196.56 L315.23,197.52 L316.4,196.64 L317.4,197.8 L318.58,196.18 L319.58,198.92 L320.82,196.24 L321.83,197.5 L323.12,196.38 L323.82,198.01 L325.19,198.09 L326.08,197.26 L326.83,197.57 L328.12,197.84 L328.88,196.12 L330.05,198.06 L330.79,196.1 L332.15,198.35 L333.46,196.98 L334.83,200.95 L335.85,197.14 L336.94,197.58 L337.96,196.72 L338.75,197.79 L339.96,197.34 L340.86,198.56 L342.16,197.65 L343.37,197.86 L344.33,196.78 L345.1,198.96 L346.3,197.69 L347.59,198.77 L348.57,197.02 L349.71,198.06 L350.46,196.04 L351.27,198.7 L352.4,197.3" fill="none" stroke="#000" stroke-width="0.7" stroke-linejoin="round"/>
<path d="M50,197.6 50.44,202.61 50.92,185.57 51.51,203.79 51.94,184.31 52.41,207.41 52.93,196.27" fill="none" stroke="#000" stroke-width="0.65"/>
<path d="M93,197.6 93.43,199.22 93.85,191.17 94.2,201.95 94.74,188.41 95.12,203.58 95.49,189 95.96,200.71 96.51,189.35 96.99,197.87" fill="none" stroke="#000" stroke-width="0.65"/>
<path d="M143,197.6 143.45,203.97 143.82,193.1 144.31,203 144.68,187.32 145.26,214.22 145.75,187.41 146.25,208.58 146.64,188.48 147.1,209.73 147.46,192.36 147.84,207.96 148.31,194.22 148.86,200.05" fill="none" stroke="#000" stroke-width="0.65"/>
<path d="M178,197.6 178.35,198.66 178.71,193.91 179.28,202.04 179.86,193.29 180.38,200.84 180.84,192.21 181.3,204.7 181.73,191.86 182.13,203.49 182.59,192.89 182.95,201.45 183.48,195.2 183.95,203.42 184.46,194.96 185,197.74" fill="none" stroke="#000" stroke-width="0.65"/>
<path d="M250,197.6 250.54,199.95 251.01,193.85 251.5,208.23 252.06,190.39 252.58,203.47 253.1,185.74 253.6,208.78 254.08,190.34 254.47,204.78 255.02,190.45 255.38,207.54 255.94,191.64 256.34,205.66 256.73,195.28" fill="none" stroke="#000" stroke-width="0.65"/>
<path d="M296,197.6 296.42,200.93 296.81,195.98 297.32,208.71 297.73,190.77 298.19,208.26 298.77,191.92 299.24,210.99 299.77,194.44 300.14,207.09 300.68,195.5" fill="none" stroke="#000" stroke-width="0.65"/>
<path d="M316,197.6 316.39,202.18 316.9,191.98 317.27,201.49 317.8,196.19" fill="none" stroke="#000" stroke-width="0.65"/>
<path d="M338,197.6 338.56,203.25 338.97,194.38 339.53,208.97 340.06,192.13 340.59,202.01 340.99,191.18 341.58,201.63 341.97,190.01 342.51,201.05 342.88,195.14" fill="none" stroke="#000" stroke-width="0.65"/>
<path d="M51.3,197.6 L51.5,175.8 L51.75,216.4 L51.95,197.6" fill="none" stroke="#555" stroke-width="0.6"/>
<path d="M51,194.9 L51.3,203.1 L51.6,193.1 L51.9,202.0 L52.2,195.3" fill="none" stroke="#000" stroke-width="0.6"/>
<path d="M53.2,197.6 L53.4,194.6 L53.65,205.5 L53.85,197.6" fill="none" stroke="#555" stroke-width="0.6"/>
<path d="M52.9,197.1 L53.2,200.0 L53.5,196.7 L53.8,199.5 L54.1,197.2" fill="none" stroke="#000" stroke-width="0.6"/>
<path d="M70.4,197.6 L70.6,184.7 L70.85,205.5 L71.05,197.6" fill="none" stroke="#555" stroke-width="0.6"/>
<path d="M70.1,195.3 L70.4,200.0 L70.7,193.7 L71,199.5 L71.3,195.7" fill="none" stroke="#000" stroke-width="0.6"/>
<path d="M71.4,197.6 L71.6,188 L71.85,203 L72.05,197.6" fill="none" stroke="#555" stroke-width="0.6"/>
<path d="M71.1,195.9 L71.4,199.2 L71.7,194.7 L72,198.9 L72.3,196.2" fill="none" stroke="#000" stroke-width="0.6"/>
<path d="M93.1,197.6 L93.3,170 L93.55,218 L93.75,197.6" fill="none" stroke="#555" stroke-width="0.6"/>
<path d="M92.8,194.9 L93.1,203.1 L93.4,193.1 L93.7,202.0 L94,195.3" fill="none" stroke="#000" stroke-width="0.6"/>
<path d="M94.7,197.6 L94.9,167 L95.15,221.3 L95.35,197.6" fill="none" stroke="#555" stroke-width="0.6"/>
<path d="M94.4,194.9 L94.7,203.1 L95,193.1 L95.3,202.0 L95.6,195.3" fill="none" stroke="#000" stroke-width="0.6"/>
<path d="M114.4,197.6 L114.6,190 L114.85,200 L115.05,197.6" fill="none" stroke="#555" stroke-width="0.6"/>
<path d="M114.1,196.2 L114.4,198.3 L114.7,195.3 L115,198.2 L115.3,196.5" fill="none" stroke="#000" stroke-width="0.6"/>
<path d="M145.7,197.6 L145.9,175.8 L146.15,220.3 L146.35,197.6" fill="none" stroke="#555" stroke-width="0.6"/>
<path d="M145.4,194.9 L145.7,203.1 L146,193.1 L146.3,202.0 L146.6,195.3" fill="none" stroke="#000" stroke-width="0.6"/>
<path d="M147.3,197.6 L147.5,182 L147.75,215 L147.95,197.6" fill="none" stroke="#555" stroke-width="0.6"/>
<path d="M147,194.9 L147.3,202.8 L147.6,193.1 L147.9,201.8 L148.2,195.3" fill="none" stroke="#000" stroke-width="0.6"/>
<path d="M165.4,197.6 L165.6,191.7 L165.85,205.5 L166.05,197.6" fill="none" stroke="#555" stroke-width="0.6"/>
<path d="M165.1,196.5 L165.4,200.0 L165.7,195.8 L166,199.5 L166.3,196.7" fill="none" stroke="#000" stroke-width="0.6"/>
<path d="M179.7,197.6 L179.9,181.8 L180.15,210.4 L180.35,197.6" fill="none" stroke="#555" stroke-width="0.6"/>
<path d="M179.4,194.9 L179.7,201.4 L180,193.1 L180.3,200.7 L180.6,195.3" fill="none" stroke="#000" stroke-width="0.6"/>
<path d="M181.3,197.6 L181.5,185 L181.75,208 L181.95,197.6" fill="none" stroke="#555" stroke-width="0.6"/>
<path d="M181,195.3 L181.3,200.7 L181.6,193.8 L181.9,200.1 L182.2,195.7" fill="none" stroke="#000" stroke-width="0.6"/>
<path d="M193.9,197.6 L194.1,194.6 L194.35,203.5 L194.55,197.6" fill="none" stroke="#555" stroke-width="0.6"/>
<path d="M193.6,197.1 L193.9,199.4 L194.2,196.7 L194.5,199.0 L194.8,197.2" fill="none" stroke="#000" stroke-width="0.6"/>
<path d="M252.6,197.6 L252.8,176.8 L253.05,225.3 L253.25,197.6" fill="none" stroke="#555" stroke-width="0.6"/>
<path d="M252.3,194.9 L252.6,203.1 L252.9,193.1 L253.2,202.0 L253.5,195.3" fill="none" stroke="#000" stroke-width="0.6"/>
<path d="M254,197.6 L254.2,185 L254.45,216.4 L254.65,197.6" fill="none" stroke="#555" stroke-width="0.6"/>
<path d="M253.7,195.3 L254,203.1 L254.3,193.8 L254.6,202.0 L254.9,195.7" fill="none" stroke="#000" stroke-width="0.6"/>
<path d="M271.8,197.6 L272,181.8 L272.25,207.5 L272.45,197.6" fill="none" stroke="#555" stroke-width="0.6"/>
<path d="M271.5,194.9 L271.8,200.6 L272.1,193.1 L272.4,200.0 L272.7,195.3" fill="none" stroke="#000" stroke-width="0.6"/>
<path d="M298.2,197.6 L298.4,166 L298.65,219.3 L298.85,197.6" fill="none" stroke="#555" stroke-width="0.6"/>
<path d="M297.9,194.9 L298.2,203.1 L298.5,193.1 L298.8,202.0 L299.1,195.3" fill="none" stroke="#000" stroke-width="0.6"/>
<path d="M316.4,197.6 L316.6,186.7 L316.85,207.5 L317.05,197.6" fill="none" stroke="#555" stroke-width="0.6"/>
<path d="M316.1,195.6 L316.4,200.6 L316.7,194.3 L317,200.0 L317.3,196.0" fill="none" stroke="#000" stroke-width="0.6"/>
<path d="M339.9,197.6 L340.1,170.9 L340.35,216.3 L340.55,197.6" fill="none" stroke="#555" stroke-width="0.6"/>
<path d="M339.6,194.9 L339.9,203.1 L340.2,193.1 L340.5,202.0 L340.8,195.3" fill="none" stroke="#000" stroke-width="0.6"/>
<line x1="34.5" y1="183.95" x2="50.2" y2="183.95" stroke="#00ff00" stroke-width="1.8"/>
<line x1="50.2" y1="197.90" x2="57.3" y2="197.90" stroke="#ff0000" stroke-width="1.8"/>
<line x1="57.3" y1="193.10" x2="69.1" y2="193.10" stroke="#0000ff" stroke-width="1.8"/>
<line x1="69.1" y1="188.50" x2="76.4" y2="188.50" stroke="#ff00ff" stroke-width="1.8"/>
<line x1="76.4" y1="183.95" x2="92.9" y2="183.95" stroke="#00ff00" stroke-width="1.8"/>
<line x1="92.9" y1="197.90" x2="100.4" y2="197.90" stroke="#ff0000" stroke-width="1.8"/>
<line x1="100.4" y1="193.10" x2="115.0" y2="193.10" stroke="#0000ff" stroke-width="1.8"/>
<line x1="115.0" y1="188.50" x2="122.5" y2="188.50" stroke="#ff00ff" stroke-width="1.8"/>
<line x1="122.5" y1="183.95" x2="141.9" y2="183.95" stroke="#00ff00" stroke-width="1.8"/>
<line x1="141.9" y1="197.90" x2="150.3" y2="197.90" stroke="#ff0000" stroke-width="1.8"/>
<line x1="150.3" y1="193.10" x2="160.8" y2="193.10" stroke="#0000ff" stroke-width="1.8"/>
<line x1="160.8" y1="188.50" x2="164.7" y2="188.50" stroke="#ff00ff" stroke-width="1.8"/>
<line x1="164.7" y1="183.95" x2="178.5" y2="183.95" stroke="#00ff00" stroke-width="1.8"/>
<line x1="178.5" y1="197.90" x2="186.4" y2="197.90" stroke="#ff0000" stroke-width="1.8"/>
<line x1="186.4" y1="193.10" x2="193.8" y2="193.10" stroke="#0000ff" stroke-width="1.8"/>
<line x1="193.8" y1="188.50" x2="199.2" y2="188.50" stroke="#ff00ff" stroke-width="1.8"/>
<line x1="199.2" y1="183.95" x2="214.6" y2="183.95" stroke="#00ff00" stroke-width="1.8"/>
<line x1="214.6" y1="197.90" x2="219.6" y2="197.90" stroke="#ff0000" stroke-width="1.8"/>
<line x1="219.6" y1="193.10" x2="229.5" y2="193.10" stroke="#0000ff" stroke-width="1.8"/>
<line x1="229.5" y1="188.50" x2="234.6" y2="188.50" stroke="#ff00ff" stroke-width="1.8"/>
<line x1="234.6" y1="183.95" x2="250.1" y2="183.95" stroke="#00ff00" stroke-width="1.8"/>
<line x1="250.1" y1="197.90" x2="258.8" y2="197.90" stroke="#ff0000" stroke-width="1.8"/>
<line x1="258.8" y1="193.10" x2="271.3" y2="193.10" stroke="#0000ff" stroke-width="1.8"/>
<line x1="271.3" y1="188.50" x2="278.2" y2="188.50" stroke="#ff00ff" stroke-width="1.8"/>
<line x1="278.2" y1="183.95" x2="296.0" y2="183.95" stroke="#00ff00" stroke-width="1.8"/>
<line x1="296.0" y1="197.90" x2="303.6" y2="197.90" stroke="#ff0000" stroke-width="1.8"/>
<line x1="303.6" y1="193.10" x2="315.2" y2="193.10" stroke="#0000ff" stroke-width="1.8"/>
<line x1="315.2" y1="188.50" x2="321.2" y2="188.50" stroke="#ff00ff" stroke-width="1.8"/>
<line x1="321.2" y1="183.95" x2="338.2" y2="183.95" stroke="#00ff00" stroke-width="1.8"/>
<line x1="338.2" y1="197.90" x2="346.5" y2="197.90" stroke="#ff0000" stroke-width="1.8"/>
<line x1="346.5" y1="193.10" x2="352.8" y2="193.10" stroke="#0000ff" stroke-width="1.8"/>
<line x1="50.2" y1="183.95" x2="50.2" y2="197.90" stroke="#555" stroke-width="0.75"/>
<line x1="57.3" y1="197.90" x2="57.3" y2="193.10" stroke="#555" stroke-width="0.75"/>
<line x1="69.1" y1="193.10" x2="69.1" y2="188.50" stroke="#555" stroke-width="0.75"/>
<line x1="76.4" y1="188.50" x2="76.4" y2="183.95" stroke="#555" stroke-width="0.75"/>
<line x1="92.9" y1="183.95" x2="92.9" y2="197.90" stroke="#555" stroke-width="0.75"/>
<line x1="100.4" y1="197.90" x2="100.4" y2="193.10" stroke="#555" stroke-width="0.75"/>
<line x1="115.0" y1="193.10" x2="115.0" y2="188.50" stroke="#555" stroke-width="0.75"/>
<line x1="122.5" y1="188.50" x2="122.5" y2="183.95" stroke="#555" stroke-width="0.75"/>
<line x1="141.9" y1="183.95" x2="141.9" y2="197.90" stroke="#555" stroke-width="0.75"/>
<line x1="150.3" y1="197.90" x2="150.3" y2="193.10" stroke="#555" stroke-width="0.75"/>
<line x1="160.8" y1="193.10" x2="160.8" y2="188.50" stroke="#555" stroke-width="0.75"/>
<line x1="164.7" y1="188.50" x2="164.7" y2="183.95" stroke="#555" stroke-width="0.75"/>
<line x1="178.5" y1="183.95" x2="178.5" y2="197.90" stroke="#555" stroke-width="0.75"/>
<line x1="186.4" y1="197.90" x2="186.4" y2="193.10" stroke="#555" stroke-width="0.75"/>
<line x1="193.8" y1="193.10" x2="193.8" y2="188.50" stroke="#555" stroke-width="0.75"/>
<line x1="199.2" y1="188.50" x2="199.2" y2="183.95" stroke="#555" stroke-width="0.75"/>
<line x1="214.6" y1="183.95" x2="214.6" y2="197.90" stroke="#555" stroke-width="0.75"/>
<line x1="219.6" y1="197.90" x2="219.6" y2="193.10" stroke="#555" stroke-width="0.75"/>
<line x1="229.5" y1="193.10" x2="229.5" y2="188.50" stroke="#555" stroke-width="0.75"/>
<line x1="234.6" y1="188.50" x2="234.6" y2="183.95" stroke="#555" stroke-width="0.75"/>
<line x1="250.1" y1="183.95" x2="250.1" y2="197.90" stroke="#555" stroke-width="0.75"/>
<line x1="258.8" y1="197.90" x2="258.8" y2="193.10" stroke="#555" stroke-width="0.75"/>
<line x1="271.3" y1="193.10" x2="271.3" y2="188.50" stroke="#555" stroke-width="0.75"/>
<line x1="278.2" y1="188.50" x2="278.2" y2="183.95" stroke="#555" stroke-width="0.75"/>
<line x1="296.0" y1="183.95" x2="296.0" y2="197.90" stroke="#555" stroke-width="0.75"/>
<line x1="303.6" y1="197.90" x2="303.6" y2="193.10" stroke="#555" stroke-width="0.75"/>
<line x1="315.2" y1="193.10" x2="315.2" y2="188.50" stroke="#555" stroke-width="0.75"/>
<line x1="321.2" y1="188.50" x2="321.2" y2="183.95" stroke="#555" stroke-width="0.75"/>
<line x1="338.2" y1="183.95" x2="338.2" y2="197.90" stroke="#555" stroke-width="0.75"/>
<line x1="346.5" y1="197.90" x2="346.5" y2="193.10" stroke="#555" stroke-width="0.75"/>
<line x1="49.8" y1="170.55" x2="57.7" y2="170.55" stroke="#ff0000" stroke-width="1.3"/>
<line x1="69.1" y1="170.55" x2="76.4" y2="170.55" stroke="#ff00ff" stroke-width="1.3"/>
<line x1="93.3" y1="170.55" x2="100.8" y2="170.55" stroke="#ff0000" stroke-width="1.3"/>
<line x1="114.6" y1="170.55" x2="122.5" y2="170.55" stroke="#ff00ff" stroke-width="1.3"/>
<line x1="141.6" y1="170.55" x2="150.3" y2="170.55" stroke="#ff0000" stroke-width="1.3"/>
<line x1="161.3" y1="170.55" x2="166.7" y2="170.55" stroke="#ff00ff" stroke-width="1.3"/>
<line x1="178.5" y1="170.55" x2="186.4" y2="170.55" stroke="#ff0000" stroke-width="1.3"/>
<line x1="193.8" y1="170.55" x2="199.0" y2="170.55" stroke="#ff00ff" stroke-width="1.3"/>
<line x1="249.9" y1="170.55" x2="259.2" y2="170.55" stroke="#ff0000" stroke-width="1.3"/>
<line x1="271.7" y1="170.55" x2="278.2" y2="170.55" stroke="#ff00ff" stroke-width="1.3"/>
<line x1="296.0" y1="170.55" x2="303.6" y2="170.55" stroke="#ff0000" stroke-width="1.3"/>
<line x1="315.2" y1="170.55" x2="321.2" y2="170.55" stroke="#ff00ff" stroke-width="1.3"/>
<line x1="338.2" y1="170.55" x2="344.1" y2="170.55" stroke="#ff0000" stroke-width="1.3"/>
<line x1="207.3" y1="166" x2="213.02" y2="172.58" stroke="#555" stroke-width="0.6"/>
<polygon points="216.7,176.8 208.86,172.36 213.02,172.58 213.38,168.42" fill="#000"/>
<text x="4.8" y="169.05" font-size="7.6" style="stroke-width:0.3px">(C)</text>
<text transform="translate(9.5,196.65) rotate(-90)" font-size="7.6" text-anchor="middle" letter-spacing="-0.08" style="stroke-width:0.25px">Normalized</text>
<text transform="translate(18.7,197.15) rotate(-90)" font-size="7.6" text-anchor="middle" letter-spacing="0.2" style="stroke-width:0.25px">amplitude</text>
<line x1="34.5" y1="245.5" x2="34.5" y2="308.35" stroke="#999" stroke-width="0.9"/>
<line x1="34.5" y1="308.35" x2="353.3" y2="308.35" stroke="#c4c4c4" stroke-width="1.4"/>
<line x1="34.5" y1="254.40" x2="37.5" y2="254.40" stroke="#aaa" stroke-width="0.8"/>
<text x="32.6" y="257.50" font-size="7.6" text-anchor="end">5</text>
<line x1="34.5" y1="276.90" x2="37.5" y2="276.90" stroke="#aaa" stroke-width="0.8"/>
<text x="32.6" y="280.00" font-size="7.6" text-anchor="end">0</text>
<line x1="34.5" y1="299.40" x2="37.5" y2="299.40" stroke="#aaa" stroke-width="0.8"/>
<text x="32.6" y="302.50" font-size="7.6" text-anchor="end">−5</text>
<line x1="34.50" y1="308.35" x2="34.50" y2="305.35" stroke="#888" stroke-width="0.7"/>
<text x="34.50" y="317.75" font-size="7.6" text-anchor="middle">11</text>
<line x1="98.35" y1="308.35" x2="98.35" y2="305.35" stroke="#888" stroke-width="0.7"/>
<text x="98.35" y="317.75" font-size="7.6" text-anchor="middle">12</text>
<line x1="162.40" y1="308.35" x2="162.40" y2="305.35" stroke="#888" stroke-width="0.7"/>
<text x="162.40" y="317.75" font-size="7.6" text-anchor="middle">13</text>
<line x1="225.75" y1="308.35" x2="225.75" y2="305.35" stroke="#888" stroke-width="0.7"/>
<text x="225.75" y="317.75" font-size="7.6" text-anchor="middle">14</text>
<line x1="289.50" y1="308.35" x2="289.50" y2="305.35" stroke="#888" stroke-width="0.7"/>
<text x="289.50" y="317.75" font-size="7.6" text-anchor="middle">15</text>
<line x1="353.20" y1="308.35" x2="353.20" y2="305.35" stroke="#888" stroke-width="0.7"/>
<text x="353.20" y="317.75" font-size="7.6" text-anchor="middle">16</text>
<polygon points="215.8,277 216.3,266 216.9,262 217.6,258 218,251.7 218.5,257 219.2,261 220.2,262.5 221.3,265.5 222.3,269.5 223.2,276 222.7,280 221.8,284 221,288.5 220.3,289.3 219.6,287.5 218.6,285.5 217.6,283 216.6,280.5" fill="#a8a8a8"/>
<path d="M216,277.3 216.49,278.85 217.03,270.2 217.58,284.19 218.06,264.15 218.53,283.47 219.03,264.44 219.53,287.56 219.95,263.28 220.52,282.74 220.88,267.54 221.38,285.44 221.87,269.3 222.41,279.3 222.93,276.11" fill="none" stroke="#8a8a8a" stroke-width="0.4"/>
<path d="M34.5,277.73 L35.71,276.41 L36.94,278.55 L37.69,276.43 L38.53,277.65 L39.26,276.59 L40.01,277.81 L40.93,277.06 L42.04,278.63 L43.16,276.76 L44.38,278.13 L45.72,276.11 L46.85,277.34 L47.62,275.7 L48.69,278.49 L49.43,276.98 L50.4,278.13 L51.77,275.38 L52.71,278.85 L53.47,277.03 L54.23,278.06 L55.48,276.16 L56.24,277.91 L57.61,277 L58.95,277.59 L60.06,276.5 L61.02,278.36 L61.78,276.05 L62.61,279.94 L63.36,276.41 L64.47,277.86 L65.21,275.94 L66.35,277.73 L67.2,277 L68.03,277.93 L69.18,276.99 L69.9,278.8 L71.16,276.23 L72.3,278.54 L73.16,276.91 L73.92,278.54 L74.72,276.01 L75.68,278.18 L76.39,276.29 L77.71,278.11 L78.65,276.32 L79.6,277.38 L80.38,276.29 L81.5,278.96 L82.68,275.95 L83.85,277.32 L85.21,276.9 L86.41,279.41 L87.54,276.44 L88.72,278.96 L89.85,275.94 L91.16,278 L92.33,276.35 L93.19,278.41 L94.05,277.02 L95.37,279.08 L96.28,276.41 L97.61,278.06 L98.38,276.32 L99.27,276.69 L100.16,275.45 L101.43,277.89 L102.81,274.51 L104.05,278.17 L105.1,276.21 L106.46,277.78 L107.49,274.79 L108.6,278.46 L109.52,275.75 L110.88,278.43 L111.67,275.9 L112.8,279.08 L113.6,277.01 L114.79,279.17 L115.58,276.63 L116.78,277.67 L117.57,276.75 L118.65,278.42 L119.58,276.84 L120.43,278.38 L121.72,276.76 L122.6,277.58 L123.36,276.56 L124.19,279.18 L125.08,277.15 L125.87,277.24 L126.93,276.25 L127.86,277.37 L128.65,276.22 L129.95,278.01 L130.8,277.4 L131.75,278.56 L132.89,277.27 L134.2,278.75 L135.07,275.93 L136.44,278.32 L137.6,277.32 L138.68,277.94 L140.02,275.57 L140.97,279.13 L141.67,275.55 L142.91,277.58 L144.01,276.55 L145,278.94 L146.22,277.38 L147.49,278.23 L148.81,275.62 L149.91,278.51 L151.18,276.36 L152.37,278.22 L153.62,276.09 L154.39,278.68 L155.41,275.5 L156.4,277.27 L157.62,276.65 L158.84,278.37 L159.88,277.24 L160.64,277.9 L162,275.1 L163.13,278.17 L164.12,276.36 L165.04,278 L165.94,276.66 L166.89,278.6 L168.02,276.73 L169.05,278.05 L170.35,276.9 L171.12,278.16 L172.44,275.57 L173.33,277.53 L174.69,275.35 L175.55,277.96 L176.69,275.7 L178.03,278.05 L178.86,276.77 L179.98,278.37 L181.37,276.38 L182.55,279.53 L183.53,276.68 L184.29,277.95 L185.68,275.91 L186.74,277.02 L187.46,277.18 L188.31,277.89 L189.68,276.2 L190.99,277.47 L192.15,276.71 L193.36,278.19 L194.74,276.39 L195.84,277.94 L196.56,277 L197.91,277.9 L199.11,277.05 L200.4,277.61 L201.31,276.43 L202.65,277.1 L203.63,276.13 L204.7,277.14 L205.76,276.78 L206.49,277.71 L207.32,276.17 L208.48,277.97 L209.81,277.29 L211.01,277.32 L212.02,276.69 L213.35,278.35 L214.07,276.61 L215.06,277.52 L216.1,276.43 M223.87,278.16 L225.25,275.87 L226.61,278.55 L227.79,276.61 L228.97,278.82 L229.93,277.21 L231.3,278.27 L232.36,276.79 L233.37,278.18 L234.44,277.12 L235.43,278.6 L236.61,276.86 L237.71,278.18 L239.09,275.93 L240.3,277.45 L241.41,277.08 L242.12,277.67 L243.23,275.59 L244.19,277.84 L245.07,276.11 L246.41,278.6 L247.54,276.45 L248.82,278.36 L250.08,276.13 L251.37,277.53 L252.54,276.65 L253.59,277.81 L254.92,276.07 L255.68,278.49 L256.84,276.78 L257.93,278.74 L259.08,275.93 L259.93,278.6 L261.25,277.21 L262.38,277.78 L263.5,276.03 L264.75,278.2 L266.03,275.77 L267.2,277.66 L268.11,275.51 L268.98,278.42 L269.92,277.27 L270.79,278.32 L271.98,276.63 L272.99,278.99 L274.38,276.95 L275.45,278.03 L276.48,276.74 L277.58,278.76 L278.43,276.3 L279.42,278 L280.33,276.31 L281.13,277.99 L282.42,276.39 L283.39,278.82 L284.69,276.51 L285.74,278.84 L286.73,276.11 L288.02,278.47 L289.26,276.67 L290.23,278.13 L291.46,276.31 L292.39,278.26 L293.63,276 L294.33,279.64 L295.44,276.82 L296.31,278.31 L297.26,276.27 L298.33,278.62 L299.66,276.19 L300.76,278.58 L301.67,276.85 L302.87,278.17 L303.99,275.68 L305.08,278.37 L306.31,277.05 L307.22,277.43 L308.37,276.56 L309.26,278.45 L310.54,277.14 L311.55,278.22 L312.62,276.36 L313.51,277.72 L314.23,277.05 L315.12,278.61 L316.32,276.3 L317.5,277.78 L318.46,276.44 L319.75,278.31 L320.85,275.36 L321.83,278.08 L322.94,276.58 L324.1,277.31 L324.8,276.58 L326.03,277.1 L327.38,277.43 L328.23,277.84 L328.95,276.78 L329.66,280.24 L330.98,277.21 L332.13,278.37 L332.91,276.76 L334.27,277.79 L335.42,276.77 L336.7,277.38 L337.71,277.22 L338.45,278.36 L339.63,276.68 L340.48,277.34 L341.61,276.24 L342.52,277.85 L343.77,276.23 L344.48,278.11 L345.8,277.17 L346.75,277.8 L347.7,277.42 L349.09,278.25 L350.03,276.43 L350.91,278.4 L351.93,275.84" fill="none" stroke="#000" stroke-width="0.75" stroke-linejoin="round"/>
<path d="M67,277.3 67.6,279.05 68.16,267.3 68.69,282.08 69.23,272.61 69.74,283.56 70.2,268.77 70.72,279.31" fill="none" stroke="#000" stroke-width="0.65"/>
<path d="M113,277.3 113.38,279.26 113.92,272.46 114.38,281.42 114.74,267.44 115.17,278.8" fill="none" stroke="#000" stroke-width="0.65"/>
<path d="M167,277.3 167.42,279.19 167.88,267.41 168.48,283.48 169,268.49 169.58,279.21 169.96,275.78" fill="none" stroke="#000" stroke-width="0.65"/>
<path d="M238.5,277.3 238.95,281 239.46,274.97 239.82,280.89 240.31,274.48 240.81,278.13" fill="none" stroke="#000" stroke-width="0.65"/>
<path d="M301.5,277.3 301.92,279.79 302.32,268.62 302.88,281.3 303.32,274.86" fill="none" stroke="#000" stroke-width="0.65"/>
<path d="M349,277.3 349.59,285.52 350.11,274.65 350.69,282.53 351.23,274 351.59,283.03" fill="none" stroke="#000" stroke-width="0.65"/>
<path d="M46.2,277.3 46.8,258.06 48.14,290.3 49.48,261.57 50.82,292.29 52.16,265.56 53.5,280.81 54.1,277.3" fill="none" stroke="#111" stroke-width="0.6"/>
<path d="M92,277.3 92.6,254.37 93.88,288.54 95.16,256.88 96.44,289.93 97.72,262 99,279.92 99.6,277.3" fill="none" stroke="#111" stroke-width="0.6"/>
<path d="M144.9,277.3 145.5,255.75 146.8,285.61 148.1,259.59 149.4,287.24 150.7,263.35 152,279.6 152.6,277.3" fill="none" stroke="#111" stroke-width="0.6"/>
<path d="M279.8,277.3 280.4,257.32 281.72,283.38 283.04,260.16 284.36,284.13 285.68,262.25 287,279.06 287.6,277.3" fill="none" stroke="#111" stroke-width="0.6"/>
<path d="M327.8,277.3 328.4,259.13 329.72,286.47 331.04,262.39 332.36,285.67 333.68,264.62 335,279.61 335.6,277.3" fill="none" stroke="#111" stroke-width="0.6"/>
<path d="M68.4,277.3 L68.6,256.8 L68.85,308.2 L69.05,277.3" fill="none" stroke="#555" stroke-width="0.6"/>
<path d="M68.6,256.8 L68.7,284.3" fill="none" stroke="#000" stroke-width="0.8"/>
<path d="M92.1,277.3 L92.3,251.9 L92.55,290 L92.75,277.3" fill="none" stroke="#555" stroke-width="0.6"/>
<path d="M91.8,274.6 L92.1,281.1 L92.4,272.8 L92.7,280.3 L93,275.1" fill="none" stroke="#000" stroke-width="0.6"/>
<path d="M114,277.3 L114.2,251.9 L114.45,308.2 L114.65,277.3" fill="none" stroke="#555" stroke-width="0.6"/>
<path d="M114.2,251.9 L114.3,284.3" fill="none" stroke="#000" stroke-width="0.8"/>
<path d="M146.3,277.3 L146.5,254 L146.75,288 L146.95,277.3" fill="none" stroke="#555" stroke-width="0.6"/>
<path d="M146,274.6 L146.3,280.5 L146.6,272.8 L146.9,279.9 L147.2,275.1" fill="none" stroke="#000" stroke-width="0.6"/>
<path d="M168,277.3 L168.2,247.9 L168.45,308.2 L168.65,277.3" fill="none" stroke="#555" stroke-width="0.6"/>
<path d="M168.2,247.9 L168.3,284.3" fill="none" stroke="#000" stroke-width="0.8"/>
<path d="M178.3,277.3 L178.5,269.7 L178.75,280.5 L178.95,277.3" fill="none" stroke="#555" stroke-width="0.6"/>
<path d="M178,275.9 L178.3,278.3 L178.6,275.0 L178.9,278.1 L179.2,276.2" fill="none" stroke="#000" stroke-width="0.6"/>
<path d="M239.4,277.3 L239.6,248.9 L239.85,308.2 L240.05,277.3" fill="none" stroke="#555" stroke-width="0.6"/>
<path d="M239.6,248.9 L239.7,284.3" fill="none" stroke="#000" stroke-width="0.8"/>
<path d="M280.2,277.3 L280.4,254.9 L280.65,285.5 L280.85,277.3" fill="none" stroke="#555" stroke-width="0.6"/>
<path d="M279.9,274.6 L280.2,279.8 L280.5,272.8 L280.8,279.3 L281.1,275.1" fill="none" stroke="#000" stroke-width="0.6"/>
<path d="M302.3,277.3 L302.5,253.9 L302.75,308.2 L302.95,277.3" fill="none" stroke="#555" stroke-width="0.6"/>
<path d="M302.5,253.9 L302.6,284.3" fill="none" stroke="#000" stroke-width="0.8"/>
<path d="M328.2,277.3 L328.4,257.8 L328.65,285 L328.85,277.3" fill="none" stroke="#555" stroke-width="0.6"/>
<path d="M327.9,274.6 L328.2,279.6 L328.5,272.8 L328.8,279.1 L329.1,275.1" fill="none" stroke="#000" stroke-width="0.6"/>
<path d="M337.5,277.3 L337.7,251.9 L337.95,300.3 L338.15,277.3" fill="none" stroke="#555" stroke-width="0.6"/>
<path d="M337.2,274.6 L337.5,282.8 L337.8,272.8 L338.1,281.7 L338.4,275.1" fill="none" stroke="#000" stroke-width="0.6"/>
<path d="M350,277.3 L350.2,251.9 L350.45,307.2 L350.65,277.3" fill="none" stroke="#555" stroke-width="0.6"/>
<path d="M350.2,251.9 L350.3,284.3" fill="none" stroke="#000" stroke-width="0.8"/>
<line x1="34.5" y1="263.70" x2="46.2" y2="263.70" stroke="#00ff00" stroke-width="1.8"/>
<line x1="46.2" y1="277.40" x2="55.1" y2="277.40" stroke="#ff0000" stroke-width="1.8"/>
<line x1="55.1" y1="272.70" x2="67.5" y2="272.70" stroke="#0000ff" stroke-width="1.8"/>
<line x1="67.5" y1="268.40" x2="72.9" y2="268.40" stroke="#ff00ff" stroke-width="1.8"/>
<line x1="72.9" y1="263.70" x2="92.5" y2="263.70" stroke="#00ff00" stroke-width="1.8"/>
<line x1="92.5" y1="277.40" x2="100.8" y2="277.40" stroke="#ff0000" stroke-width="1.8"/>
<line x1="100.8" y1="272.70" x2="112.3" y2="272.70" stroke="#0000ff" stroke-width="1.8"/>
<line x1="112.3" y1="268.40" x2="120.2" y2="268.40" stroke="#ff00ff" stroke-width="1.8"/>
<line x1="120.2" y1="263.70" x2="145.5" y2="263.70" stroke="#00ff00" stroke-width="1.8"/>
<line x1="145.5" y1="277.40" x2="154.2" y2="277.40" stroke="#ff0000" stroke-width="1.8"/>
<line x1="154.2" y1="272.70" x2="167.3" y2="272.70" stroke="#0000ff" stroke-width="1.8"/>
<line x1="167.3" y1="268.40" x2="174.0" y2="268.40" stroke="#ff00ff" stroke-width="1.8"/>
<line x1="174.0" y1="263.70" x2="197.9" y2="263.70" stroke="#00ff00" stroke-width="1.8"/>
<line x1="197.9" y1="277.40" x2="203.9" y2="277.40" stroke="#ff0000" stroke-width="1.8"/>
<line x1="203.9" y1="272.70" x2="216.7" y2="272.70" stroke="#0000ff" stroke-width="1.8"/>
<line x1="216.7" y1="268.40" x2="224.2" y2="268.40" stroke="#ff00ff" stroke-width="1.8"/>
<line x1="224.2" y1="263.70" x2="243.4" y2="263.70" stroke="#00ff00" stroke-width="1.8"/>
<line x1="243.4" y1="277.40" x2="247.4" y2="277.40" stroke="#ff0000" stroke-width="1.8"/>
<line x1="247.4" y1="272.70" x2="257.3" y2="272.70" stroke="#0000ff" stroke-width="1.8"/>
<line x1="257.3" y1="268.40" x2="261.2" y2="268.40" stroke="#ff00ff" stroke-width="1.8"/>
<line x1="261.2" y1="263.70" x2="280.2" y2="263.70" stroke="#00ff00" stroke-width="1.8"/>
<line x1="280.2" y1="277.40" x2="288.1" y2="277.40" stroke="#ff0000" stroke-width="1.8"/>
<line x1="288.1" y1="272.70" x2="301.9" y2="272.70" stroke="#0000ff" stroke-width="1.8"/>
<line x1="301.9" y1="268.40" x2="307.3" y2="268.40" stroke="#ff00ff" stroke-width="1.8"/>
<line x1="307.3" y1="263.70" x2="328.3" y2="263.70" stroke="#00ff00" stroke-width="1.8"/>
<line x1="328.3" y1="277.40" x2="336.6" y2="277.40" stroke="#ff0000" stroke-width="1.8"/>
<line x1="336.6" y1="272.70" x2="348.4" y2="272.70" stroke="#0000ff" stroke-width="1.8"/>
<line x1="348.4" y1="268.40" x2="352.8" y2="268.40" stroke="#ff00ff" stroke-width="1.8"/>
<line x1="46.2" y1="263.70" x2="46.2" y2="277.40" stroke="#555" stroke-width="0.75"/>
<line x1="55.1" y1="277.40" x2="55.1" y2="272.70" stroke="#555" stroke-width="0.75"/>
<line x1="67.5" y1="272.70" x2="67.5" y2="268.40" stroke="#555" stroke-width="0.75"/>
<line x1="72.9" y1="268.40" x2="72.9" y2="263.70" stroke="#555" stroke-width="0.75"/>
<line x1="92.5" y1="263.70" x2="92.5" y2="277.40" stroke="#555" stroke-width="0.75"/>
<line x1="100.8" y1="277.40" x2="100.8" y2="272.70" stroke="#555" stroke-width="0.75"/>
<line x1="112.3" y1="272.70" x2="112.3" y2="268.40" stroke="#555" stroke-width="0.75"/>
<line x1="120.2" y1="268.40" x2="120.2" y2="263.70" stroke="#555" stroke-width="0.75"/>
<line x1="145.5" y1="263.70" x2="145.5" y2="277.40" stroke="#555" stroke-width="0.75"/>
<line x1="154.2" y1="277.40" x2="154.2" y2="272.70" stroke="#555" stroke-width="0.75"/>
<line x1="167.3" y1="272.70" x2="167.3" y2="268.40" stroke="#555" stroke-width="0.75"/>
<line x1="174.0" y1="268.40" x2="174.0" y2="263.70" stroke="#555" stroke-width="0.75"/>
<line x1="197.9" y1="263.70" x2="197.9" y2="277.40" stroke="#555" stroke-width="0.75"/>
<line x1="203.9" y1="277.40" x2="203.9" y2="272.70" stroke="#555" stroke-width="0.75"/>
<line x1="216.7" y1="272.70" x2="216.7" y2="268.40" stroke="#555" stroke-width="0.75"/>
<line x1="224.2" y1="268.40" x2="224.2" y2="263.70" stroke="#555" stroke-width="0.75"/>
<line x1="243.4" y1="263.70" x2="243.4" y2="277.40" stroke="#555" stroke-width="0.75"/>
<line x1="247.4" y1="277.40" x2="247.4" y2="272.70" stroke="#555" stroke-width="0.75"/>
<line x1="257.3" y1="272.70" x2="257.3" y2="268.40" stroke="#555" stroke-width="0.75"/>
<line x1="261.2" y1="268.40" x2="261.2" y2="263.70" stroke="#555" stroke-width="0.75"/>
<line x1="280.2" y1="263.70" x2="280.2" y2="277.40" stroke="#555" stroke-width="0.75"/>
<line x1="288.1" y1="277.40" x2="288.1" y2="272.70" stroke="#555" stroke-width="0.75"/>
<line x1="301.9" y1="272.70" x2="301.9" y2="268.40" stroke="#555" stroke-width="0.75"/>
<line x1="307.3" y1="268.40" x2="307.3" y2="263.70" stroke="#555" stroke-width="0.75"/>
<line x1="328.3" y1="263.70" x2="328.3" y2="277.40" stroke="#555" stroke-width="0.75"/>
<line x1="336.6" y1="277.40" x2="336.6" y2="272.70" stroke="#555" stroke-width="0.75"/>
<line x1="348.4" y1="272.70" x2="348.4" y2="268.40" stroke="#555" stroke-width="0.75"/>
<line x1="46.2" y1="250.35" x2="55.1" y2="250.35" stroke="#ff0000" stroke-width="1.3"/>
<line x1="67.5" y1="250.35" x2="72.9" y2="250.35" stroke="#ff00ff" stroke-width="1.3"/>
<line x1="92.5" y1="250.35" x2="100.8" y2="250.35" stroke="#ff0000" stroke-width="1.3"/>
<line x1="112.7" y1="250.35" x2="120.2" y2="250.35" stroke="#ff00ff" stroke-width="1.3"/>
<line x1="145.9" y1="250.35" x2="154.2" y2="250.35" stroke="#ff0000" stroke-width="1.3"/>
<line x1="167.3" y1="250.35" x2="174.0" y2="250.35" stroke="#ff00ff" stroke-width="1.3"/>
<line x1="216.3" y1="250.35" x2="224.2" y2="250.35" stroke="#ff0000" stroke-width="1.3"/>
<line x1="237.5" y1="250.35" x2="242.0" y2="250.35" stroke="#ff00ff" stroke-width="1.3"/>
<line x1="281.0" y1="250.35" x2="288.1" y2="250.35" stroke="#ff0000" stroke-width="1.3"/>
<line x1="301.3" y1="250.35" x2="306.9" y2="250.35" stroke="#ff00ff" stroke-width="1.3"/>
<line x1="328.3" y1="250.35" x2="336.2" y2="250.35" stroke="#ff0000" stroke-width="1.3"/>
<line x1="348.4" y1="250.35" x2="352.8" y2="250.35" stroke="#ff00ff" stroke-width="1.3"/>
<line x1="205.9" y1="246.6" x2="211.12" y2="252.58" stroke="#555" stroke-width="0.6"/>
<polygon points="214.8,256.8 206.95,252.37 211.12,252.58 211.47,248.42" fill="#000"/>
<text x="4.8" y="248.0" font-size="7.6" style="stroke-width:0.3px">(D)</text>
<text transform="translate(9.5,276.12) rotate(-90)" font-size="7.6" text-anchor="middle" letter-spacing="-0.08" style="stroke-width:0.25px">Normalized</text>
<text transform="translate(18.7,276.62) rotate(-90)" font-size="7.6" text-anchor="middle" letter-spacing="0.2" style="stroke-width:0.25px">amplitude</text>
<text x="181.2" y="325.7" font-size="7.6">Time (<tspan font-style="italic">s</tspan>)</text>
</svg></body></html>
